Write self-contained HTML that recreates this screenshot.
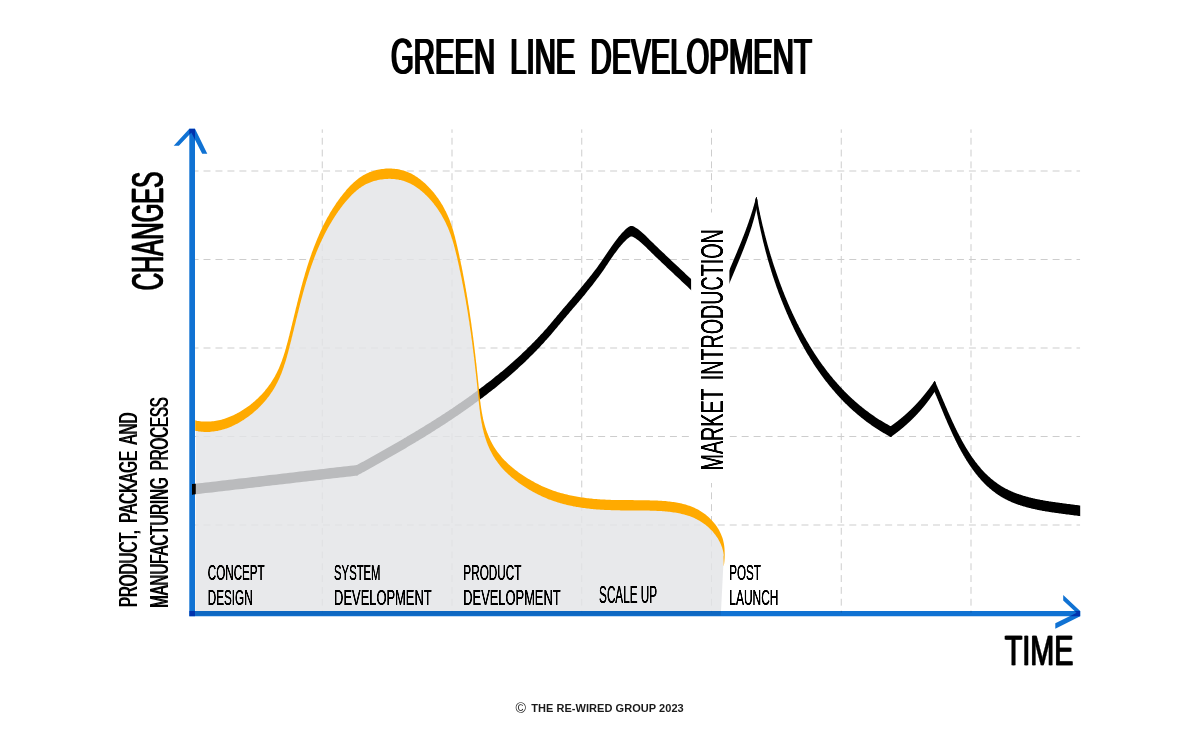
<!DOCTYPE html>
<html lang="en">
<head>
<meta charset="utf-8">
<title>Green Line Development</title>
<style>
html,body{margin:0;padding:0;background:#fff;}
body{width:1200px;height:732px;overflow:hidden;position:relative;font-family:"Liberation Sans",sans-serif;}
svg{position:absolute;left:0;top:0;display:block;}
svg text{font-family:"Liberation Sans",sans-serif;fill:#000;}
.axes,.axes .m{mix-blend-mode:multiply;}
.footer{position:absolute;left:515.6px;top:700px;height:16px;line-height:16px;font-size:11px;font-weight:700;color:#1a1a1a;white-space:nowrap;letter-spacing:0.05px;}
.footer .c{font-weight:400;font-size:14.2px;line-height:16px;display:inline-block;width:12.5px;vertical-align:-0.6px;letter-spacing:0;}
</style>
</head>
<body>
<svg width="1200" height="732" viewBox="0 0 1200 732">
<defs>
<clipPath id="lineclip"><path d="M192,0H691.1V732H192ZM729.4,0H1080.2V732H729.4Z"/></clipPath>
<clipPath id="oclip"><rect x="195.2" y="0" width="600" height="732"/></clipPath>
<filter id="tx1" filterUnits="userSpaceOnUse" x="0" y="0" width="1200" height="732"><feOffset in="SourceGraphic" dx="1" result="a"/><feMerge><feMergeNode in="a"/><feMergeNode in="SourceGraphic"/></feMerge></filter>
<filter id="tx2" filterUnits="userSpaceOnUse" x="0" y="0" width="1200" height="732"><feOffset in="SourceGraphic" dx="1" result="a"/><feOffset in="SourceGraphic" dx="-1" result="b"/><feMerge><feMergeNode in="a"/><feMergeNode in="b"/><feMergeNode in="SourceGraphic"/></feMerge></filter>
<filter id="txb" filterUnits="userSpaceOnUse" x="0" y="0" width="1200" height="732"><feGaussianBlur stdDeviation="0.4 0"/><feComponentTransfer><feFuncA type="linear" slope="1.6" intercept="0"/></feComponentTransfer></filter>
<filter id="tyb" filterUnits="userSpaceOnUse" x="0" y="0" width="1200" height="732"><feGaussianBlur stdDeviation="0 0.4"/><feComponentTransfer><feFuncA type="linear" slope="1.6" intercept="0"/></feComponentTransfer></filter>
<filter id="ty1" filterUnits="userSpaceOnUse" x="0" y="0" width="1200" height="732"><feOffset in="SourceGraphic" dy="-1" result="a"/><feMerge><feMergeNode in="a"/><feMergeNode in="SourceGraphic"/></feMerge></filter>
</defs>
<rect width="1200" height="732" fill="#fff"/>
<g class="grid" stroke="#cdcdcd" stroke-width="1" fill="none"><g stroke-dasharray="6.895 4.925" stroke-dashoffset="3.447"><path d="M322.25,129.4V612.6"/><path d="M452,129.4V612.6"/><path d="M581.75,129.4V612.6"/><path d="M711.5,129.4V612.6"/><path d="M841.25,129.4V612.6"/><path d="M971,129.4V612.6"/></g><g stroke-dasharray="6.976 4.983" stroke-dashoffset="3.488"><path d="M195.05,171.0H1080.05"/><path d="M195.05,259.5H1080.05"/><path d="M195.05,348.0H1080.05"/><path d="M195.05,436.5H1080.05"/><path d="M195.05,525.0H1080.05"/></g></g>
<rect x="691.2" y="212.5" width="38.2" height="270.5" fill="#fff"/>
<g class="green-line" clip-path="url(#lineclip)" fill="#000"><path d="M192.0,494.7L195.4,494.3L198.8,493.9L202.1,493.5L205.5,493.1L208.9,492.7L212.2,492.4L215.6,492.0L219.0,491.6L222.3,491.2L225.7,490.8L229.1,490.4L232.4,490.0L235.8,489.6L239.2,489.2L242.5,488.9L245.9,488.5L249.3,488.1L252.6,487.7L256.0,487.3L259.4,486.9L262.7,486.5L266.1,486.1L269.5,485.7L272.8,485.3L276.2,485.0L279.6,484.6L282.9,484.2L286.3,483.8L289.7,483.4L293.1,483.0L296.4,482.6L299.8,482.2L303.2,481.8L306.5,481.4L309.9,481.1L313.3,480.7L316.6,480.3L320.0,479.9L323.4,479.5L326.7,479.1L330.1,478.7L333.5,478.3L336.8,477.9L340.2,477.5L343.6,477.2L346.9,476.8L350.3,476.4L353.7,476.0L357.0,475.6L357.0,465.0L353.6,465.4L350.2,465.8L346.9,466.2L343.5,466.6L340.1,467.0L336.8,467.3L333.4,467.7L330.0,468.1L326.7,468.5L323.3,468.9L319.9,469.3L316.6,469.7L313.2,470.1L309.8,470.5L306.5,470.8L303.1,471.2L299.7,471.6L296.4,472.0L293.0,472.4L289.6,472.8L286.3,473.2L282.9,473.6L279.5,474.0L276.2,474.4L272.8,474.7L269.4,475.1L266.1,475.5L262.7,475.9L259.3,476.3L255.9,476.7L252.6,477.1L249.2,477.5L245.8,477.9L242.5,478.3L239.1,478.6L235.7,479.0L232.4,479.4L229.0,479.8L225.6,480.2L222.3,480.6L218.9,481.0L215.5,481.4L212.2,481.8L208.8,482.2L205.4,482.5L202.1,482.9L198.7,483.3L195.3,483.7L192.0,484.1Z"/><path d="M193.2,489.4L193.2,490.8L193.0,492.0L192.8,493.1L192.6,494.0L192.3,494.5L192.0,494.7L191.7,494.5L191.4,494.0L191.2,493.1L191.0,492.0L190.8,490.8L190.8,489.4L190.8,488.0L191.0,486.8L191.2,485.7L191.4,484.8L191.7,484.3L192.0,484.1L192.3,484.3L192.6,484.8L192.8,485.7L193.0,486.8L193.2,488.0Z"/><path d="M358.2,470.3L358.2,471.7L358.0,472.9L357.8,474.0L357.6,474.9L357.3,475.4L357.0,475.6L356.7,475.4L356.4,474.9L356.2,474.0L356.0,472.9L355.8,471.7L355.8,470.3L355.8,468.9L356.0,467.7L356.2,466.6L356.4,465.7L356.7,465.2L357.0,465.0L357.3,465.2L357.6,465.7L357.8,466.6L358.0,467.7L358.2,468.9Z"/><path d="M357.1,475.6L358.5,474.8L359.8,474.1L361.1,473.4L362.5,472.6L363.8,471.9L365.1,471.2L366.4,470.4L367.8,469.7L369.1,469.0L370.4,468.2L371.7,467.5L373.1,466.7L374.4,466.0L375.7,465.3L377.0,464.5L378.4,463.8L379.7,463.0L381.0,462.3L382.3,461.5L383.7,460.8L385.0,460.0L386.3,459.3L387.6,458.5L388.9,457.8L390.3,457.0L391.6,456.3L392.9,455.5L394.2,454.8L395.6,454.0L396.9,453.2L398.2,452.5L399.5,451.7L400.8,451.0L402.1,450.2L403.5,449.4L404.8,448.7L406.1,447.9L407.4,447.1L408.7,446.3L410.0,445.6L411.3,444.8L412.6,444.0L413.9,443.2L415.3,442.4L416.6,441.6L417.9,440.9L419.2,440.1L420.5,439.3L421.8,438.5L423.1,437.7L424.4,436.9L425.7,436.1L427.0,435.3L428.3,434.5L429.6,433.7L430.9,432.9L432.2,432.1L433.5,431.3L434.8,430.4L436.0,429.6L437.3,428.8L438.6,428.0L439.9,427.2L441.2,426.3L442.5,425.5L443.7,424.7L445.0,423.9L446.3,423.0L447.6,422.2L448.8,421.3L450.1,420.5L451.4,419.7L452.7,418.8L453.9,418.0L455.2,417.1L456.4,416.3L457.7,415.4L459.0,414.5L460.2,413.7L461.5,412.8L462.7,411.9L464.0,411.1L465.2,410.2L466.5,409.3L467.7,408.5L469.0,407.6L470.2,406.7L471.4,405.8L472.7,404.9L473.9,404.0L475.1,403.1L476.4,402.2L477.6,401.3L478.8,400.4L480.0,399.5L481.2,398.6L482.5,397.7L483.7,396.8L484.9,395.8L486.1,394.9L487.3,394.0L488.5,393.1L489.7,392.1L490.9,391.2L492.1,390.2L493.3,389.3L494.5,388.4L495.7,387.4L496.9,386.4L498.0,385.5L499.2,384.5L500.4,383.6L501.6,382.6L502.7,381.6L503.9,380.7L505.1,379.7L506.2,378.7L507.4,377.7L508.6,376.7L509.7,375.7L510.9,374.7L512.0,373.7L513.1,372.7L514.3,371.7L515.4,370.7L516.5,369.7L517.7,368.7L518.8,367.6L519.9,366.6L521.0,365.6L522.2,364.5L523.3,363.5L524.4,362.4L525.5,361.4L526.6,360.3L527.7,359.3L528.8,358.2L529.8,357.1L530.9,356.1L532.0,355.0L533.1,353.9L534.2,352.8L535.2,351.8L536.3,350.7L537.3,349.6L538.4,348.5L539.4,347.4L540.5,346.2L541.5,345.1L542.6,344.0L543.6,342.9L544.6,341.8L545.6,340.6L546.7,339.5L547.7,338.3L548.7,337.2L549.7,336.0L550.7,334.9L551.7,333.7L552.7,332.5L553.6,331.4L554.6,330.2L555.6,329.0L556.6,327.9L557.6,326.7L558.5,325.5L559.5,324.4L560.5,323.2L561.5,322.0L562.5,320.9L563.4,319.7L564.4,318.6L565.4,317.4L566.4,316.2L567.4,315.1L568.4,313.9L569.4,312.8L570.3,311.6L571.3,310.5L572.3,309.3L573.3,308.1L574.3,307.0L575.3,305.8L576.3,304.7L577.2,303.5L578.2,302.4L579.2,301.2L580.2,300.0L581.2,298.9L582.1,297.7L583.1,296.5L584.1,295.4L585.1,294.2L586.0,293.0L587.0,291.8L587.9,290.6L588.9,289.5L589.8,288.3L590.8,287.1L591.7,285.9L592.7,284.7L593.6,283.5L594.5,282.3L595.5,281.1L596.4,279.8L597.3,278.6L598.2,277.4L599.1,276.2L600.0,274.9L600.9,273.7L601.8,272.4L602.7,271.2L603.6,269.9L604.4,268.7L605.3,267.4L606.1,266.1L607.0,264.9L607.9,263.6L608.7,262.3L609.5,261.1L610.4,259.8L611.2,258.5L612.1,257.3L613.0,256.1L613.8,254.8L614.7,253.6L615.6,252.4L616.5,251.2L617.4,250.0L618.3,248.8L619.2,247.6L620.2,246.5L621.1,245.3L622.1,244.2L623.1,243.1L624.1,242.0L625.2,240.9L626.3,239.8L627.4,238.8L628.5,237.9L629.8,237.1L630.9,236.6L632.0,236.6L633.2,237.0L634.5,237.7L635.8,238.5L637.0,239.4L638.2,240.3L639.4,241.2L640.6,242.2L641.7,243.2L642.8,244.2L643.9,245.2L645.0,246.2L646.1,247.3L647.2,248.4L648.2,249.5L649.3,250.5L650.4,251.6L651.5,252.7L652.6,253.7L653.7,254.8L654.8,255.9L655.9,256.9L657.0,258.0L658.1,259.0L659.2,260.1L660.3,261.1L661.4,262.2L662.5,263.2L663.6,264.3L664.7,265.3L665.8,266.3L666.9,267.4L668.0,268.4L669.1,269.5L670.2,270.5L671.3,271.5L672.4,272.6L673.5,273.6L674.6,274.7L675.7,275.7L676.9,276.7L678.0,277.8L679.1,278.8L680.2,279.8L681.3,280.9L682.4,281.9L683.5,283.0L684.6,284.0L685.7,285.1L686.8,286.1L687.9,287.1L689.0,288.2L690.1,289.2L691.2,290.3L692.3,291.3L693.4,292.4L694.5,293.5L695.5,283.3L694.4,282.3L693.3,281.2L692.2,280.2L691.1,279.1L690.0,278.1L688.9,277.0L687.8,276.0L686.7,274.9L685.6,273.9L684.5,272.8L683.4,271.8L682.3,270.7L681.2,269.7L680.1,268.7L678.9,267.6L677.8,266.6L676.7,265.5L675.6,264.5L674.5,263.5L673.4,262.4L672.3,261.4L671.2,260.4L670.1,259.3L669.0,258.3L667.9,257.2L666.8,256.2L665.7,255.2L664.6,254.1L663.5,253.1L662.3,252.0L661.3,251.0L660.2,249.9L659.1,248.9L658.0,247.8L656.9,246.8L655.8,245.7L654.7,244.7L653.6,243.6L652.5,242.6L651.4,241.5L650.3,240.4L649.3,239.4L648.2,238.3L647.1,237.2L646.0,236.1L644.9,235.1L643.8,234.0L642.6,233.0L641.5,232.0L640.3,231.0L639.1,230.0L637.9,229.1L636.6,228.2L635.3,227.4L633.9,226.6L632.3,226.0L630.5,226.0L628.9,226.7L627.5,227.7L626.2,228.7L625.1,229.8L624.0,230.9L623.0,232.0L621.9,233.1L620.9,234.2L619.9,235.4L618.9,236.6L618.0,237.8L617.0,239.0L616.1,240.2L615.1,241.4L614.2,242.7L613.3,243.9L612.4,245.2L611.5,246.4L610.7,247.7L609.8,248.9L608.9,250.2L608.1,251.5L607.2,252.8L606.4,254.0L605.5,255.3L604.7,256.5L603.8,257.8L603.0,259.1L602.1,260.3L601.3,261.5L600.4,262.8L599.5,264.0L598.6,265.2L597.8,266.5L596.9,267.7L596.0,268.9L595.1,270.1L594.2,271.3L593.2,272.5L592.3,273.7L591.4,274.9L590.5,276.1L589.5,277.3L588.6,278.4L587.6,279.6L586.7,280.8L585.7,282.0L584.8,283.1L583.8,284.3L582.9,285.5L581.9,286.6L580.9,287.8L580.0,289.0L579.0,290.1L578.0,291.3L577.0,292.4L576.0,293.6L575.1,294.8L574.1,295.9L573.1,297.1L572.1,298.2L571.1,299.4L570.1,300.5L569.1,301.7L568.2,302.8L567.2,304.0L566.2,305.2L565.2,306.3L564.2,307.5L563.2,308.6L562.2,309.8L561.3,311.0L560.3,312.1L559.3,313.3L558.3,314.5L557.3,315.6L556.4,316.8L555.4,318.0L554.4,319.1L553.4,320.3L552.4,321.5L551.5,322.6L550.5,323.8L549.5,324.9L548.5,326.1L547.5,327.2L546.5,328.4L545.5,329.5L544.5,330.6L543.5,331.8L542.5,332.9L541.4,334.0L540.4,335.1L539.4,336.2L538.3,337.3L537.3,338.4L536.3,339.5L535.2,340.6L534.2,341.7L533.1,342.8L532.0,343.8L531.0,344.9L529.9,346.0L528.8,347.0L527.7,348.1L526.7,349.2L525.6,350.2L524.5,351.3L523.4,352.3L522.3,353.3L521.2,354.4L520.1,355.4L519.0,356.4L517.9,357.4L516.8,358.5L515.6,359.5L514.5,360.5L513.4,361.5L512.3,362.5L511.1,363.5L510.0,364.5L508.9,365.5L507.7,366.5L506.6,367.4L505.4,368.4L504.3,369.4L503.1,370.4L502.0,371.4L500.8,372.3L499.6,373.3L498.5,374.2L497.3,375.2L496.1,376.1L494.9,377.1L493.8,378.0L492.6,379.0L491.4,379.9L490.2,380.9L489.0,381.8L487.8,382.7L486.6,383.6L485.4,384.6L484.2,385.5L483.0,386.4L481.8,387.3L480.6,388.2L479.4,389.1L478.2,390.0L477.0,390.9L475.8,391.8L474.5,392.7L473.3,393.6L472.1,394.5L470.9,395.4L469.6,396.3L468.4,397.2L467.2,398.0L465.9,398.9L464.7,399.8L463.4,400.7L462.2,401.5L460.9,402.4L459.7,403.3L458.4,404.1L457.2,405.0L455.9,405.8L454.7,406.7L453.4,407.5L452.2,408.4L450.9,409.2L449.6,410.1L448.4,410.9L447.1,411.7L445.8,412.6L444.6,413.4L443.3,414.2L442.0,415.1L440.7,415.9L439.5,416.7L438.2,417.5L436.9,418.3L435.6,419.2L434.3,420.0L433.1,420.8L431.8,421.6L430.5,422.4L429.2,423.2L427.9,424.0L426.6,424.8L425.3,425.6L424.0,426.4L422.7,427.2L421.4,428.0L420.1,428.8L418.8,429.6L417.5,430.4L416.2,431.1L414.9,431.9L413.6,432.7L412.3,433.5L411.0,434.3L409.7,435.1L408.4,435.8L407.1,436.6L405.8,437.4L404.5,438.1L403.1,438.9L401.8,439.7L400.5,440.4L399.2,441.2L397.9,442.0L396.6,442.7L395.2,443.5L393.9,444.3L392.6,445.0L391.3,445.8L390.0,446.5L388.6,447.3L387.3,448.0L386.0,448.8L384.7,449.5L383.4,450.3L382.0,451.0L380.7,451.8L379.4,452.5L378.1,453.3L376.7,454.0L375.4,454.7L374.1,455.5L372.8,456.2L371.4,457.0L370.1,457.7L368.8,458.4L367.5,459.2L366.1,459.9L364.8,460.7L363.5,461.4L362.2,462.1L360.8,462.8L359.5,463.6L358.2,464.3L356.9,465.0Z"/><path d="M358.2,470.3L358.2,471.7L358.0,473.0L357.8,474.0L357.6,474.9L357.3,475.4L357.0,475.6L356.7,475.4L356.4,474.9L356.2,474.0L356.0,473.0L355.8,471.7L355.8,470.3L355.8,468.9L356.0,467.7L356.2,466.6L356.4,465.7L356.7,465.2L357.0,465.0L357.3,465.2L357.6,465.7L357.8,466.6L358.0,467.7L358.2,468.9Z"/><path d="M696.7,288.4L696.6,289.8L696.5,291.1L696.2,292.1L695.8,293.0L695.4,293.5L695.0,293.7L694.6,293.5L694.1,293.0L693.8,292.1L693.5,291.1L693.4,289.8L693.3,288.4L693.4,287.0L693.5,285.8L693.8,284.7L694.1,283.8L694.6,283.3L695.0,283.1L695.4,283.3L695.8,283.8L696.2,284.7L696.5,285.8L696.6,287.0Z"/><path d="M723.5,297.9L723.6,297.6L723.7,297.3L723.8,297.0L723.9,296.7L724.1,296.4L724.2,296.1L724.3,295.8L724.4,295.5L724.5,295.2L724.7,294.9L724.8,294.6L724.9,294.3L725.0,294.0L725.1,293.7L725.3,293.4L725.4,293.1L725.5,292.8L725.6,292.5L725.7,292.2L725.9,291.9L726.0,291.6L726.1,291.3L726.2,291.0L726.4,290.7L726.5,290.4L726.6,290.1L726.7,289.8L726.8,289.5L727.0,289.2L727.1,288.9L727.2,288.6L727.3,288.3L727.5,288.0L727.6,287.7L727.7,287.4L727.8,287.1L728.0,286.8L728.1,286.5L728.2,286.2L728.3,285.9L728.4,285.6L728.6,285.3L728.7,285.0L728.8,284.7L728.9,284.4L729.1,284.1L729.2,283.8L729.3,283.5L729.4,283.2L729.6,282.9L729.7,282.6L729.8,282.3L729.9,282.0L730.1,281.7L730.2,281.4L730.3,281.1L730.5,280.8L730.6,280.5L730.7,280.2L730.8,279.9L731.0,279.6L731.1,279.3L731.2,279.0L731.3,278.7L731.5,278.4L731.6,278.1L731.7,277.8L731.8,277.5L732.0,277.2L732.1,276.9L732.2,276.6L732.4,276.3L732.5,276.0L732.6,275.7L732.7,275.4L732.9,275.1L733.0,274.8L733.1,274.5L733.2,274.2L733.4,273.9L733.5,273.6L733.6,273.3L733.7,273.0L733.9,272.7L734.0,272.4L734.1,272.1L734.3,271.8L734.4,271.5L734.5,271.2L734.6,270.9L734.8,270.6L734.9,270.3L735.0,270.0L735.2,269.7L735.3,269.3L735.4,269.0L735.5,268.7L735.7,268.4L735.8,268.1L735.9,267.8L736.0,267.5L736.2,267.2L736.3,266.9L736.4,266.6L736.6,266.3L736.7,266.0L736.8,265.7L736.9,265.4L737.1,265.1L737.2,264.8L737.3,264.5L737.4,264.2L737.6,263.9L737.7,263.6L737.8,263.3L737.9,263.0L738.1,262.7L738.2,262.4L738.3,262.1L738.4,261.8L738.6,261.5L738.7,261.2L738.8,260.9L738.9,260.6L739.1,260.3L739.2,260.0L739.3,259.7L739.4,259.4L739.6,259.1L739.7,258.8L739.8,258.5L739.9,258.2L740.1,257.9L740.2,257.6L740.3,257.3L740.4,257.0L740.5,256.7L740.7,256.4L740.8,256.1L740.9,255.8L741.0,255.5L741.2,255.2L741.3,254.9L741.4,254.6L741.5,254.2L741.7,253.9L741.8,253.6L741.9,253.3L742.0,253.0L742.1,252.7L742.3,252.4L742.4,252.1L742.5,251.8L742.6,251.5L742.7,251.2L742.9,250.9L743.0,250.6L743.1,250.3L743.2,250.0L743.3,249.7L743.5,249.4L743.6,249.1L743.7,248.8L743.8,248.5L743.9,248.2L744.1,247.9L744.2,247.6L744.3,247.2L744.4,246.9L744.5,246.6L744.7,246.3L744.8,246.0L744.9,245.7L745.0,245.4L745.1,245.1L745.2,244.8L745.4,244.5L745.5,244.2L745.6,243.9L745.7,243.6L745.8,243.3L745.9,243.0L746.1,242.7L746.2,242.3L746.3,242.0L746.4,241.7L746.5,241.4L746.6,241.1L746.8,240.8L746.9,240.5L747.0,240.2L747.1,239.9L747.2,239.6L747.3,239.3L747.4,239.0L747.5,238.7L747.7,238.3L747.8,238.0L747.9,237.7L748.0,237.4L748.1,237.1L748.2,236.8L748.3,236.5L748.4,236.2L748.6,235.9L748.7,235.6L748.8,235.3L748.9,234.9L749.0,234.6L749.1,234.3L749.2,234.0L749.3,233.7L749.4,233.4L749.5,233.1L749.6,232.8L749.7,232.5L749.9,232.1L750.0,231.8L750.1,231.5L750.2,231.2L750.3,230.9L750.4,230.6L750.5,230.3L750.6,230.0L750.7,229.6L750.8,229.3L750.9,229.0L751.0,228.7L751.1,228.4L751.2,228.1L751.3,227.8L751.4,227.5L751.5,227.2L751.6,226.9L751.7,226.6L751.8,226.3L751.9,226.0L752.0,225.7L752.1,225.3L752.2,225.0L752.2,224.7L752.3,224.4L752.4,224.1L752.5,223.8L752.6,223.5L752.7,223.2L752.8,222.9L752.9,222.6L753.0,222.3L753.1,221.9L753.2,221.6L753.3,221.3L753.3,221.0L753.4,220.7L753.5,220.4L753.6,220.1L753.7,219.8L753.8,219.5L753.9,219.1L754.0,218.8L754.0,218.5L754.1,218.2L754.2,217.9L754.3,217.6L754.4,217.3L754.5,217.0L754.5,216.7L754.6,216.3L754.7,216.0L754.8,215.7L754.9,215.4L755.0,215.1L755.0,214.8L755.1,214.5L755.2,214.1L755.3,213.8L755.4,213.5L755.4,213.2L755.5,212.9L755.6,212.6L755.7,212.3L755.7,212.0L755.8,211.6L755.9,211.3L756.0,211.0L756.0,210.7L756.1,210.4L756.2,210.1L756.3,209.8L756.3,209.5L756.4,209.2L756.5,208.9L756.5,208.5L756.6,208.2L756.7,207.9L756.7,207.6L756.8,207.3L756.9,207.0L756.9,206.7L755.9,198.1L755.8,198.5L755.7,198.8L755.6,199.1L755.5,199.4L755.5,199.8L755.4,200.1L755.3,200.4L755.2,200.7L755.1,201.0L755.0,201.4L754.9,201.7L754.9,202.0L754.8,202.3L754.7,202.7L754.6,203.0L754.5,203.3L754.4,203.6L754.3,203.9L754.2,204.3L754.1,204.6L754.1,204.9L754.0,205.2L753.9,205.5L753.8,205.8L753.7,206.2L753.6,206.5L753.5,206.8L753.4,207.1L753.3,207.4L753.2,207.7L753.1,208.1L753.1,208.4L753.0,208.7L752.9,209.0L752.8,209.3L752.7,209.6L752.6,209.9L752.5,210.3L752.4,210.6L752.3,210.9L752.2,211.2L752.1,211.5L752.0,211.8L751.9,212.1L751.8,212.5L751.7,212.8L751.6,213.1L751.5,213.4L751.4,213.7L751.3,214.0L751.2,214.3L751.1,214.7L751.0,215.0L750.9,215.3L750.8,215.6L750.7,215.9L750.6,216.2L750.5,216.5L750.4,216.8L750.3,217.2L750.2,217.5L750.1,217.8L750.0,218.1L749.9,218.4L749.7,218.7L749.6,219.0L749.5,219.3L749.4,219.7L749.3,220.0L749.2,220.3L749.1,220.6L749.0,220.9L748.9,221.2L748.8,221.5L748.7,221.8L748.6,222.1L748.5,222.4L748.4,222.7L748.3,223.0L748.1,223.4L748.0,223.7L747.9,224.0L747.8,224.3L747.7,224.6L747.6,224.9L747.5,225.2L747.4,225.5L747.3,225.8L747.2,226.1L747.1,226.4L747.0,226.7L746.8,227.0L746.7,227.3L746.6,227.6L746.5,227.9L746.4,228.2L746.3,228.5L746.2,228.8L746.1,229.1L746.0,229.4L745.8,229.7L745.7,230.0L745.6,230.4L745.5,230.7L745.4,231.0L745.3,231.3L745.2,231.6L745.1,231.9L744.9,232.2L744.8,232.5L744.7,232.8L744.6,233.1L744.5,233.4L744.4,233.7L744.2,234.0L744.1,234.3L744.0,234.6L743.9,234.9L743.8,235.2L743.7,235.5L743.5,235.8L743.4,236.1L743.3,236.4L743.2,236.7L743.1,237.0L742.9,237.3L742.8,237.6L742.7,237.9L742.6,238.2L742.5,238.5L742.4,238.8L742.2,239.1L742.1,239.5L742.0,239.8L741.9,240.1L741.7,240.4L741.6,240.7L741.5,241.0L741.4,241.3L741.3,241.6L741.1,241.9L741.0,242.2L740.9,242.5L740.8,242.8L740.7,243.1L740.5,243.4L740.4,243.7L740.3,244.0L740.2,244.3L740.0,244.6L739.9,244.9L739.8,245.2L739.7,245.5L739.5,245.8L739.4,246.1L739.3,246.4L739.2,246.7L739.0,247.0L738.9,247.3L738.8,247.6L738.7,247.9L738.5,248.2L738.4,248.5L738.3,248.8L738.2,249.1L738.0,249.4L737.9,249.7L737.8,250.0L737.7,250.3L737.5,250.6L737.4,251.0L737.3,251.3L737.2,251.6L737.0,251.9L736.9,252.2L736.8,252.5L736.7,252.8L736.5,253.1L736.4,253.4L736.3,253.7L736.1,254.0L736.0,254.3L735.9,254.6L735.8,254.9L735.6,255.2L735.5,255.5L735.4,255.8L735.3,256.1L735.1,256.4L735.0,256.7L734.9,257.0L734.7,257.3L734.6,257.6L734.5,257.9L734.4,258.2L734.2,258.5L734.1,258.8L734.0,259.1L733.9,259.4L733.7,259.7L733.6,260.0L733.5,260.3L733.3,260.6L733.2,260.9L733.1,261.2L733.0,261.5L732.8,261.8L732.7,262.1L732.6,262.4L732.5,262.7L732.3,263.0L732.2,263.3L732.1,263.6L731.9,263.9L731.8,264.2L731.7,264.5L731.6,264.8L731.4,265.1L731.3,265.4L731.2,265.7L731.1,266.0L730.9,266.3L730.8,266.6L730.7,266.9L730.5,267.2L730.4,267.5L730.3,267.8L730.2,268.1L730.0,268.4L729.9,268.7L729.8,269.0L729.7,269.3L729.5,269.7L729.4,270.0L729.3,270.3L729.1,270.6L729.0,270.9L728.9,271.2L728.8,271.5L728.6,271.8L728.5,272.1L728.4,272.4L728.3,272.7L728.1,273.0L728.0,273.3L727.9,273.6L727.8,273.9L727.6,274.2L727.5,274.5L727.4,274.8L727.2,275.1L727.1,275.4L727.0,275.7L726.9,276.0L726.7,276.3L726.6,276.6L726.5,276.9L726.4,277.2L726.2,277.5L726.1,277.8L726.0,278.1L725.9,278.4L725.7,278.7L725.6,279.0L725.5,279.3L725.4,279.6L725.2,279.9L725.1,280.2L725.0,280.6L724.9,280.9L724.7,281.2L724.6,281.5L724.5,281.8L724.4,282.1L724.2,282.4L724.1,282.7L724.0,283.0L723.9,283.3L723.8,283.6L723.6,283.9L723.5,284.2L723.4,284.5L723.3,284.8L723.1,285.1L723.0,285.4L722.9,285.7L722.8,286.0L722.7,286.3L722.5,286.6L722.4,286.9L722.3,287.3L722.2,287.6L722.0,287.9L721.9,288.2L721.8,288.5L721.7,288.8L721.6,289.1L721.4,289.4L721.3,289.7Z"/><path d="M724.1,293.8L724.0,295.2L723.9,296.5L723.6,297.5L723.3,298.4L722.8,298.9L722.4,299.1L722.0,298.9L721.6,298.4L721.2,297.5L720.9,296.5L720.8,295.2L720.7,293.8L720.8,292.4L720.9,291.2L721.2,290.1L721.6,289.2L722.0,288.7L722.4,288.5L722.8,288.7L723.3,289.2L723.6,290.1L723.9,291.2L724.0,292.4Z"/><path d="M757.3,202.4L757.3,203.8L757.2,205.1L757.0,206.1L756.9,207.0L756.6,207.5L756.4,207.7L756.2,207.5L756.0,207.0L755.8,206.1L755.6,205.1L755.5,203.8L755.5,202.4L755.5,201.0L755.6,199.8L755.8,198.7L756.0,197.8L756.2,197.3L756.4,197.1L756.6,197.3L756.9,197.8L757.0,198.7L757.2,199.8L757.3,201.0Z"/><path d="M755.8,206.3L755.9,207.1L756.1,208.0L756.3,208.9L756.4,209.8L756.6,210.7L756.7,211.6L756.9,212.5L757.1,213.4L757.2,214.3L757.4,215.2L757.6,216.1L757.8,217.0L757.9,217.8L758.1,218.7L758.3,219.6L758.5,220.5L758.7,221.4L758.8,222.3L759.0,223.2L759.2,224.1L759.4,225.0L759.6,225.9L759.8,226.8L760.0,227.7L760.2,228.6L760.4,229.5L760.6,230.4L760.8,231.3L760.9,232.1L761.2,233.0L761.4,233.9L761.6,234.8L761.8,235.7L762.0,236.6L762.2,237.5L762.4,238.4L762.6,239.3L762.8,240.2L763.0,241.1L763.2,242.0L763.5,242.9L763.7,243.7L763.9,244.6L764.1,245.5L764.4,246.4L764.6,247.3L764.8,248.2L765.0,249.1L765.3,250.0L765.5,250.9L765.7,251.8L766.0,252.7L766.2,253.5L766.5,254.4L766.7,255.3L766.9,256.2L767.2,257.1L767.4,258.0L767.7,258.9L767.9,259.8L768.2,260.7L768.4,261.5L768.7,262.4L769.0,263.3L769.2,264.2L769.5,265.1L769.7,266.0L770.0,266.9L770.3,267.7L770.5,268.6L770.8,269.5L771.1,270.4L771.3,271.3L771.6,272.2L771.9,273.0L772.2,273.9L772.4,274.8L772.7,275.7L773.0,276.6L773.3,277.5L773.6,278.3L773.9,279.2L774.2,280.1L774.5,281.0L774.8,281.9L775.1,282.8L775.4,283.6L775.7,284.5L776.0,285.4L776.3,286.3L776.6,287.2L776.9,288.1L777.3,289.0L777.6,289.8L777.9,290.7L778.2,291.6L778.5,292.5L778.9,293.4L779.2,294.2L779.5,295.1L779.9,296.0L780.2,296.9L780.5,297.7L780.9,298.6L781.2,299.5L781.6,300.4L781.9,301.2L782.3,302.1L782.6,303.0L783.0,303.9L783.3,304.7L783.7,305.6L784.0,306.5L784.4,307.3L784.7,308.2L785.1,309.1L785.5,309.9L785.8,310.8L786.2,311.7L786.6,312.5L786.9,313.4L787.3,314.2L787.7,315.1L788.1,315.9L788.4,316.8L788.8,317.7L789.2,318.5L789.6,319.4L790.0,320.2L790.4,321.1L790.8,321.9L791.1,322.8L791.5,323.6L791.9,324.5L792.3,325.3L792.7,326.1L793.1,327.0L793.5,327.8L793.9,328.7L794.3,329.5L794.7,330.3L795.1,331.2L795.5,332.0L796.0,332.8L796.4,333.7L796.8,334.5L797.2,335.3L797.6,336.1L798.1,337.0L798.5,337.8L798.9,338.6L799.3,339.4L799.8,340.2L800.2,341.1L800.6,341.9L801.1,342.7L801.5,343.5L802.0,344.3L802.4,345.1L802.9,345.9L803.3,346.8L803.8,347.6L804.2,348.4L804.7,349.2L805.1,350.0L805.6,350.8L806.0,351.6L806.5,352.4L807.0,353.2L807.4,354.0L807.9,354.8L808.4,355.5L808.9,356.3L809.4,357.1L809.8,357.9L810.3,358.7L810.8,359.5L811.3,360.3L811.8,361.1L812.3,361.8L812.8,362.6L813.3,363.4L813.8,364.2L814.3,364.9L814.8,365.7L815.3,366.5L815.8,367.2L816.3,368.0L816.9,368.8L817.4,369.5L817.9,370.3L818.4,371.0L819.0,371.8L819.5,372.5L820.0,373.3L820.5,374.0L821.1,374.8L821.6,375.5L822.2,376.3L822.7,377.0L823.3,377.7L823.8,378.5L824.4,379.2L824.9,379.9L825.5,380.7L826.0,381.4L826.6,382.1L827.2,382.8L827.7,383.6L828.3,384.3L828.9,385.0L829.5,385.7L830.0,386.4L830.6,387.1L831.2,387.8L831.8,388.5L832.4,389.2L833.0,389.9L833.6,390.6L834.2,391.3L834.8,392.0L835.4,392.7L836.0,393.4L836.6,394.1L837.2,394.7L837.8,395.4L838.4,396.1L839.0,396.8L839.7,397.4L840.3,398.1L840.9,398.8L841.5,399.4L842.2,400.1L842.8,400.7L843.4,401.4L844.1,402.1L844.7,402.7L845.4,403.4L846.0,404.0L846.7,404.6L847.4,405.3L848.0,405.9L848.7,406.5L849.3,407.2L850.0,407.8L850.7,408.4L851.4,409.0L852.0,409.7L852.7,410.3L853.4,410.9L854.1,411.5L854.8,412.1L855.5,412.7L856.2,413.3L856.9,413.9L857.5,414.5L858.3,415.1L859.0,415.7L859.7,416.3L860.4,416.8L861.1,417.4L861.8,418.0L862.5,418.6L863.3,419.1L864.0,419.7L864.7,420.3L865.4,420.8L866.2,421.4L866.9,421.9L867.7,422.5L868.4,423.0L869.1,423.5L869.9,424.1L870.6,424.6L871.4,425.2L872.2,425.7L872.9,426.2L873.7,426.7L874.5,427.2L875.2,427.8L876.0,428.3L876.8,428.8L877.6,429.3L878.3,429.8L879.1,430.3L879.9,430.8L880.7,431.3L881.5,431.7L882.3,432.2L883.1,432.7L883.9,433.2L884.7,433.6L885.5,434.1L886.3,434.6L887.1,435.0L888.0,435.5L888.8,435.9L889.6,436.4L890.4,436.8L891.0,426.4L890.1,425.9L889.3,425.5L888.5,425.0L887.7,424.6L886.9,424.1L886.1,423.7L885.3,423.2L884.5,422.7L883.7,422.3L882.9,421.8L882.1,421.3L881.3,420.8L880.5,420.3L879.7,419.9L878.9,419.4L878.2,418.9L877.4,418.4L876.6,417.9L875.9,417.4L875.1,416.9L874.3,416.3L873.6,415.8L872.8,415.3L872.1,414.8L871.3,414.3L870.6,413.7L869.9,413.2L869.1,412.7L868.4,412.1L867.7,411.6L866.9,411.0L866.2,410.5L865.5,409.9L864.8,409.4L864.1,408.8L863.3,408.3L862.6,407.7L861.9,407.1L861.2,406.6L860.5,406.0L859.8,405.4L859.1,404.8L858.4,404.3L857.8,403.7L857.1,403.1L856.4,402.5L855.7,401.9L855.0,401.3L854.4,400.7L853.7,400.1L853.0,399.5L852.4,398.9L851.7,398.3L851.0,397.7L850.4,397.1L849.7,396.4L849.1,395.8L848.4,395.2L847.8,394.6L847.2,393.9L846.5,393.3L845.9,392.7L845.3,392.0L844.6,391.4L844.0,390.7L843.4,390.1L842.7,389.4L842.1,388.8L841.5,388.1L840.9,387.5L840.3,386.8L839.7,386.2L839.1,385.5L838.5,384.8L837.9,384.2L837.3,383.5L836.7,382.8L836.1,382.1L835.5,381.4L834.9,380.8L834.3,380.1L833.7,379.4L833.1,378.7L832.6,378.0L832.0,377.3L831.4,376.6L830.8,375.9L830.3,375.2L829.7,374.5L829.1,373.8L828.6,373.1L828.0,372.4L827.5,371.7L826.9,371.0L826.4,370.2L825.8,369.5L825.3,368.8L824.7,368.1L824.2,367.3L823.7,366.6L823.1,365.9L822.6,365.2L822.1,364.4L821.5,363.7L821.0,362.9L820.5,362.2L819.9,361.5L819.4,360.7L818.9,360.0L818.4,359.2L817.9,358.5L817.4,357.7L816.9,357.0L816.4,356.2L815.9,355.4L815.4,354.7L814.9,353.9L814.4,353.2L813.9,352.4L813.4,351.6L812.9,350.9L812.4,350.1L811.9,349.3L811.4,348.5L811.0,347.8L810.5,347.0L810.0,346.2L809.5,345.4L809.1,344.6L808.6,343.8L808.1,343.1L807.7,342.3L807.2,341.5L806.7,340.7L806.3,339.9L805.8,339.1L805.4,338.3L804.9,337.5L804.5,336.7L804.0,335.9L803.6,335.1L803.1,334.3L802.7,333.5L802.2,332.7L801.8,331.9L801.4,331.0L800.9,330.2L800.5,329.4L800.1,328.6L799.6,327.8L799.2,327.0L798.8,326.2L798.4,325.3L798.0,324.5L797.5,323.7L797.1,322.9L796.7,322.0L796.3,321.2L795.9,320.4L795.5,319.6L795.1,318.7L794.7,317.9L794.3,317.1L793.9,316.2L793.5,315.4L793.1,314.6L792.7,313.7L792.3,312.9L791.9,312.1L791.6,311.2L791.2,310.4L790.8,309.5L790.4,308.7L790.0,307.9L789.7,307.0L789.3,306.2L788.9,305.3L788.6,304.5L788.2,303.7L787.8,302.8L787.5,302.0L787.1,301.1L786.8,300.3L786.4,299.4L786.1,298.6L785.7,297.7L785.4,296.9L785.0,296.0L784.7,295.2L784.3,294.3L784.0,293.5L783.7,292.6L783.3,291.8L783.0,290.9L782.6,290.1L782.3,289.2L782.0,288.3L781.7,287.5L781.3,286.6L781.0,285.8L780.7,284.9L780.4,284.0L780.0,283.2L779.7,282.3L779.4,281.5L779.1,280.6L778.8,279.7L778.5,278.9L778.2,278.0L777.9,277.2L777.6,276.3L777.3,275.4L777.0,274.6L776.7,273.7L776.4,272.8L776.1,272.0L775.8,271.1L775.5,270.2L775.2,269.3L774.9,268.4L774.6,267.6L774.3,266.7L774.0,265.8L773.7,264.9L773.4,264.0L773.1,263.1L772.8,262.3L772.6,261.4L772.3,260.5L772.0,259.6L771.7,258.7L771.5,257.8L771.2,257.0L770.9,256.1L770.6,255.2L770.4,254.3L770.1,253.4L769.8,252.5L769.6,251.6L769.3,250.8L769.1,249.9L768.8,249.0L768.5,248.1L768.3,247.2L768.0,246.3L767.8,245.4L767.5,244.5L767.3,243.7L767.1,242.8L766.8,241.9L766.6,241.0L766.3,240.1L766.1,239.2L765.9,238.3L765.6,237.4L765.4,236.5L765.2,235.7L764.9,234.8L764.7,233.9L764.5,233.0L764.3,232.1L764.0,231.2L763.8,230.3L763.6,229.4L763.4,228.6L763.2,227.7L763.0,226.8L762.7,225.9L762.5,225.0L762.3,224.1L762.1,223.2L761.9,222.3L761.7,221.5L761.5,220.6L761.3,219.7L761.1,218.8L760.9,217.9L760.7,217.0L760.5,216.1L760.3,215.3L760.1,214.4L760.0,213.5L759.8,212.6L759.6,211.7L759.4,210.9L759.2,210.0L759.0,209.1L758.9,208.2L758.7,207.3L758.5,206.5L758.3,205.6L758.2,204.7L758.0,203.8L757.8,202.9L757.7,202.1L757.5,201.2L757.3,200.3L757.2,199.4L757.0,198.6Z"/><path d="M757.3,202.4L757.3,203.8L757.2,205.1L757.0,206.1L756.8,207.0L756.6,207.5L756.4,207.7L756.2,207.5L755.9,207.0L755.8,206.1L755.6,205.1L755.5,203.8L755.5,202.4L755.5,201.0L755.6,199.8L755.8,198.7L755.9,197.8L756.2,197.3L756.4,197.1L756.6,197.3L756.8,197.8L757.0,198.7L757.2,199.8L757.3,201.0Z"/><path d="M892.3,431.6L892.2,433.0L892.1,434.3L891.8,435.3L891.5,436.2L891.1,436.7L890.7,436.9L890.3,436.7L889.9,436.2L889.6,435.3L889.3,434.3L889.2,433.0L889.1,431.6L889.2,430.2L889.3,429.0L889.6,427.9L889.9,427.0L890.3,426.5L890.7,426.3L891.1,426.5L891.5,427.0L891.8,427.9L892.1,429.0L892.2,430.2Z"/><path d="M891.0,436.8L891.2,436.7L891.4,436.5L891.6,436.4L891.7,436.3L891.9,436.2L892.1,436.1L892.3,435.9L892.4,435.8L892.6,435.7L892.8,435.6L892.9,435.4L893.1,435.3L893.3,435.2L893.5,435.1L893.6,434.9L893.8,434.8L894.0,434.7L894.2,434.6L894.3,434.4L894.5,434.3L894.7,434.2L894.8,434.1L895.0,433.9L895.2,433.8L895.4,433.7L895.5,433.5L895.7,433.4L895.9,433.3L896.0,433.2L896.2,433.0L896.4,432.9L896.6,432.8L896.7,432.6L896.9,432.5L897.1,432.4L897.2,432.3L897.4,432.1L897.6,432.0L897.7,431.9L897.9,431.7L898.1,431.6L898.2,431.5L898.4,431.3L898.6,431.2L898.8,431.1L898.9,430.9L899.1,430.8L899.3,430.7L899.4,430.6L899.6,430.4L899.8,430.3L899.9,430.2L900.1,430.0L900.3,429.9L900.4,429.8L900.6,429.6L900.8,429.5L900.9,429.3L901.1,429.2L901.2,429.1L901.4,428.9L901.6,428.8L901.7,428.7L901.9,428.5L902.1,428.4L902.2,428.3L902.4,428.1L902.6,428.0L902.7,427.9L902.9,427.7L903.1,427.6L903.2,427.4L903.4,427.3L903.5,427.2L903.7,427.0L903.9,426.9L904.0,426.7L904.2,426.6L904.4,426.5L904.5,426.3L904.7,426.2L904.8,426.0L905.0,425.9L905.2,425.8L905.3,425.6L905.5,425.5L905.6,425.3L905.8,425.2L906.0,425.1L906.1,424.9L906.3,424.8L906.4,424.6L906.6,424.5L906.8,424.4L906.9,424.2L907.1,424.1L907.2,423.9L907.4,423.8L907.6,423.6L907.7,423.5L907.9,423.3L908.0,423.2L908.2,423.1L908.4,422.9L908.5,422.8L908.7,422.6L908.8,422.5L909.0,422.3L909.1,422.2L909.3,422.0L909.4,421.9L909.6,421.8L909.8,421.6L909.9,421.5L910.1,421.3L910.2,421.2L910.4,421.0L910.5,420.9L910.7,420.7L910.8,420.6L911.0,420.4L911.2,420.3L911.3,420.1L911.5,420.0L911.6,419.8L911.8,419.7L911.9,419.5L912.1,419.4L912.2,419.2L912.4,419.1L912.5,418.9L912.7,418.8L912.8,418.6L913.0,418.5L913.1,418.3L913.3,418.2L913.4,418.0L913.6,417.9L913.7,417.7L913.9,417.6L914.0,417.4L914.2,417.3L914.3,417.1L914.5,417.0L914.6,416.8L914.8,416.7L914.9,416.5L915.1,416.4L915.2,416.2L915.4,416.1L915.5,415.9L915.7,415.7L915.8,415.6L916.0,415.4L916.1,415.3L916.3,415.1L916.4,415.0L916.6,414.8L916.7,414.7L916.8,414.5L917.0,414.4L917.1,414.2L917.3,414.0L917.4,413.9L917.6,413.7L917.7,413.6L917.9,413.4L918.0,413.3L918.2,413.1L918.3,412.9L918.4,412.8L918.6,412.6L918.7,412.5L918.9,412.3L919.0,412.2L919.2,412.0L919.3,411.8L919.4,411.7L919.6,411.5L919.7,411.4L919.9,411.2L920.0,411.0L920.2,410.9L920.3,410.7L920.4,410.6L920.6,410.4L920.7,410.2L920.9,410.1L921.0,409.9L921.1,409.8L921.3,409.6L921.4,409.4L921.6,409.3L921.7,409.1L921.8,409.0L922.0,408.8L922.1,408.6L922.2,408.5L922.4,408.3L922.5,408.1L922.7,408.0L922.8,407.8L922.9,407.7L923.1,407.5L923.2,407.3L923.3,407.2L923.5,407.0L923.6,406.8L923.7,406.7L923.9,406.5L924.0,406.4L924.1,406.2L924.3,406.0L924.4,405.9L924.5,405.7L924.7,405.5L924.8,405.4L924.9,405.2L925.1,405.0L925.2,404.9L925.3,404.7L925.5,404.6L925.6,404.4L925.7,404.2L925.9,404.1L926.0,403.9L926.1,403.7L926.2,403.6L926.4,403.4L926.5,403.2L926.6,403.1L926.8,402.9L926.9,402.7L927.0,402.6L927.1,402.4L927.3,402.2L927.4,402.1L927.5,401.9L927.6,401.7L927.8,401.6L927.9,401.4L928.0,401.2L928.2,401.1L928.3,400.9L928.4,400.7L928.5,400.5L928.7,400.4L928.8,400.2L928.9,400.0L929.0,399.9L929.2,399.7L929.3,399.5L929.4,399.4L929.5,399.2L929.7,399.0L929.8,398.9L929.9,398.7L930.0,398.5L930.1,398.3L930.3,398.2L930.4,398.0L930.5,397.8L930.6,397.7L930.8,397.5L930.9,397.3L931.0,397.1L931.1,397.0L931.2,396.8L931.4,396.6L931.5,396.5L931.6,396.3L931.7,396.1L931.8,395.9L932.0,395.8L932.1,395.6L932.2,395.4L932.3,395.2L932.4,395.1L932.6,394.9L932.7,394.7L932.8,394.5L932.9,394.4L933.0,394.2L933.1,394.0L933.3,393.8L933.4,393.7L933.5,393.5L933.6,393.3L933.7,393.2L933.8,393.0L934.0,392.8L934.1,392.6L934.2,392.4L934.3,392.3L934.4,392.1L934.5,391.9L934.7,391.7L934.8,391.6L934.9,391.4L934.3,381.2L934.2,381.4L934.1,381.6L934.0,381.7L933.8,381.9L933.7,382.1L933.6,382.3L933.5,382.5L933.4,382.6L933.3,382.8L933.1,383.0L933.0,383.2L932.9,383.3L932.8,383.5L932.7,383.7L932.5,383.9L932.4,384.0L932.3,384.2L932.2,384.4L932.0,384.6L931.9,384.7L931.8,384.9L931.7,385.1L931.6,385.3L931.4,385.4L931.3,385.6L931.2,385.8L931.1,386.0L930.9,386.1L930.8,386.3L930.7,386.5L930.6,386.7L930.4,386.8L930.3,387.0L930.2,387.2L930.1,387.4L929.9,387.5L929.8,387.7L929.7,387.9L929.6,388.0L929.4,388.2L929.3,388.4L929.2,388.6L929.1,388.7L928.9,388.9L928.8,389.1L928.7,389.2L928.5,389.4L928.4,389.6L928.3,389.8L928.2,389.9L928.0,390.1L927.9,390.3L927.8,390.4L927.6,390.6L927.5,390.8L927.4,391.0L927.2,391.1L927.1,391.3L927.0,391.5L926.9,391.6L926.7,391.8L926.6,392.0L926.5,392.1L926.3,392.3L926.2,392.5L926.1,392.6L925.9,392.8L925.8,393.0L925.7,393.1L925.5,393.3L925.4,393.5L925.3,393.6L925.1,393.8L925.0,394.0L924.9,394.1L924.7,394.3L924.6,394.5L924.5,394.6L924.3,394.8L924.2,395.0L924.0,395.1L923.9,395.3L923.8,395.5L923.6,395.6L923.5,395.8L923.4,396.0L923.2,396.1L923.1,396.3L923.0,396.5L922.8,396.6L922.7,396.8L922.5,397.0L922.4,397.1L922.3,397.3L922.1,397.4L922.0,397.6L921.8,397.8L921.7,397.9L921.6,398.1L921.4,398.3L921.3,398.4L921.2,398.6L921.0,398.7L920.9,398.9L920.7,399.1L920.6,399.2L920.5,399.4L920.3,399.5L920.2,399.7L920.1,399.9L919.9,400.0L919.8,400.2L919.6,400.3L919.5,400.5L919.4,400.6L919.2,400.8L919.1,401.0L918.9,401.1L918.8,401.3L918.6,401.4L918.5,401.6L918.4,401.7L918.2,401.9L918.1,402.1L917.9,402.2L917.8,402.4L917.6,402.5L917.5,402.7L917.4,402.8L917.2,403.0L917.1,403.2L916.9,403.3L916.8,403.5L916.6,403.6L916.5,403.8L916.4,403.9L916.2,404.1L916.1,404.2L915.9,404.4L915.8,404.5L915.6,404.7L915.5,404.8L915.3,405.0L915.2,405.2L915.0,405.3L914.9,405.5L914.8,405.6L914.6,405.8L914.5,405.9L914.3,406.1L914.2,406.2L914.0,406.4L913.9,406.5L913.7,406.7L913.6,406.8L913.4,407.0L913.3,407.1L913.1,407.3L913.0,407.4L912.8,407.6L912.7,407.7L912.5,407.9L912.4,408.0L912.2,408.2L912.1,408.3L911.9,408.5L911.8,408.6L911.6,408.8L911.5,408.9L911.3,409.1L911.2,409.2L911.0,409.4L910.9,409.5L910.7,409.7L910.6,409.8L910.4,410.0L910.3,410.1L910.1,410.2L910.0,410.4L909.8,410.5L909.7,410.7L909.5,410.8L909.3,411.0L909.2,411.1L909.0,411.3L908.9,411.4L908.7,411.6L908.6,411.7L908.4,411.8L908.3,412.0L908.1,412.1L908.0,412.3L907.8,412.4L907.7,412.6L907.5,412.7L907.3,412.8L907.2,413.0L907.0,413.1L906.9,413.3L906.7,413.4L906.6,413.6L906.4,413.7L906.2,413.8L906.1,414.0L905.9,414.1L905.8,414.3L905.6,414.4L905.5,414.5L905.3,414.7L905.1,414.8L905.0,415.0L904.8,415.1L904.7,415.2L904.5,415.4L904.4,415.5L904.2,415.7L904.0,415.8L903.9,415.9L903.7,416.1L903.6,416.2L903.4,416.3L903.2,416.5L903.1,416.6L902.9,416.8L902.8,416.9L902.6,417.0L902.4,417.2L902.3,417.3L902.1,417.4L901.9,417.6L901.8,417.7L901.6,417.8L901.5,418.0L901.3,418.1L901.1,418.3L901.0,418.4L900.8,418.5L900.6,418.7L900.5,418.8L900.3,418.9L900.2,419.1L900.0,419.2L899.8,419.3L899.7,419.5L899.5,419.6L899.3,419.7L899.2,419.8L899.0,420.0L898.8,420.1L898.7,420.2L898.5,420.4L898.3,420.5L898.2,420.6L898.0,420.8L897.8,420.9L897.7,421.0L897.5,421.2L897.3,421.3L897.2,421.4L897.0,421.5L896.8,421.7L896.7,421.8L896.5,421.9L896.3,422.1L896.2,422.2L896.0,422.3L895.8,422.4L895.7,422.6L895.5,422.7L895.3,422.8L895.2,423.0L895.0,423.1L894.8,423.2L894.7,423.3L894.5,423.5L894.3,423.6L894.1,423.7L894.0,423.8L893.8,424.0L893.6,424.1L893.5,424.2L893.3,424.3L893.1,424.5L893.0,424.6L892.8,424.7L892.6,424.8L892.4,425.0L892.3,425.1L892.1,425.2L891.9,425.3L891.8,425.4L891.6,425.6L891.4,425.7L891.2,425.8L891.1,425.9L890.9,426.1L890.7,426.2L890.5,426.3L890.4,426.4Z"/><path d="M892.3,431.6L892.2,433.0L892.1,434.3L891.8,435.3L891.5,436.2L891.1,436.7L890.7,436.9L890.3,436.7L889.9,436.2L889.6,435.3L889.3,434.3L889.2,433.0L889.1,431.6L889.2,430.2L889.3,429.0L889.6,427.9L889.9,427.0L890.3,426.5L890.7,426.3L891.1,426.5L891.5,427.0L891.8,427.9L892.1,429.0L892.2,430.2Z"/><path d="M935.6,386.3L935.6,387.7L935.5,389.0L935.3,390.0L935.1,390.9L934.9,391.4L934.6,391.6L934.3,391.4L934.1,390.9L933.9,390.0L933.7,389.0L933.6,387.7L933.6,386.3L933.6,384.9L933.7,383.7L933.9,382.6L934.1,381.7L934.3,381.2L934.6,381.0L934.9,381.2L935.1,381.7L935.3,382.6L935.5,383.7L935.6,384.9Z"/><path d="M934.2,391.2L934.5,391.8L934.7,392.4L935.0,393.0L935.2,393.6L935.5,394.2L935.7,394.8L936.0,395.4L936.3,396.0L936.5,396.6L936.8,397.3L937.0,397.9L937.3,398.5L937.6,399.1L937.8,399.8L938.1,400.4L938.3,401.0L938.6,401.6L938.9,402.3L939.1,402.9L939.4,403.5L939.6,404.2L939.9,404.8L940.2,405.5L940.4,406.1L940.7,406.7L941.0,407.4L941.2,408.0L941.5,408.7L941.8,409.3L942.0,410.0L942.3,410.6L942.6,411.3L942.8,411.9L943.1,412.6L943.4,413.2L943.7,413.9L943.9,414.6L944.2,415.2L944.5,415.9L944.8,416.5L945.1,417.2L945.3,417.9L945.6,418.5L945.9,419.2L946.2,419.8L946.5,420.5L946.8,421.2L947.0,421.8L947.3,422.5L947.6,423.2L947.9,423.8L948.2,424.5L948.5,425.2L948.8,425.8L949.1,426.5L949.4,427.2L949.7,427.8L950.0,428.5L950.3,429.2L950.6,429.8L950.9,430.5L951.2,431.2L951.5,431.8L951.8,432.5L952.1,433.2L952.4,433.8L952.7,434.5L953.0,435.2L953.3,435.8L953.6,436.5L953.9,437.1L954.3,437.8L954.6,438.5L954.9,439.1L955.2,439.8L955.5,440.5L955.9,441.1L956.2,441.8L956.5,442.4L956.9,443.1L957.2,443.7L957.5,444.4L957.9,445.1L958.2,445.7L958.5,446.4L958.9,447.0L959.2,447.7L959.6,448.3L959.9,449.0L960.3,449.6L960.6,450.3L961.0,450.9L961.3,451.6L961.7,452.2L962.1,452.8L962.4,453.5L962.8,454.1L963.2,454.8L963.5,455.4L963.9,456.0L964.3,456.6L964.6,457.3L965.0,457.9L965.4,458.5L965.8,459.1L966.1,459.8L966.5,460.4L966.9,461.0L967.3,461.6L967.7,462.2L968.1,462.8L968.5,463.4L968.9,464.0L969.3,464.7L969.7,465.3L970.1,465.8L970.5,466.4L970.9,467.0L971.3,467.6L971.7,468.2L972.2,468.8L972.6,469.4L973.0,470.0L973.4,470.5L973.9,471.1L974.3,471.7L974.7,472.3L975.2,472.8L975.6,473.4L976.0,474.0L976.5,474.5L976.9,475.1L977.4,475.6L977.8,476.2L978.3,476.7L978.7,477.2L979.2,477.8L979.7,478.3L980.1,478.8L980.6,479.4L981.1,479.9L981.5,480.4L982.0,480.9L982.5,481.4L983.0,482.0L983.5,482.5L983.9,483.0L984.4,483.5L984.9,484.0L985.4,484.4L985.9,484.9L986.4,485.4L986.9,485.9L987.4,486.4L988.0,486.8L988.5,487.3L989.0,487.8L989.5,488.2L990.0,488.7L990.6,489.1L991.1,489.6L991.6,490.0L992.2,490.4L992.7,490.9L993.3,491.3L993.8,491.7L994.4,492.1L994.9,492.6L995.5,493.0L996.0,493.4L996.6,493.8L997.2,494.2L997.7,494.6L998.3,494.9L998.9,495.3L999.5,495.7L1000.0,496.1L1000.6,496.4L1001.2,496.8L1001.8,497.2L1002.4,497.5L1003.0,497.8L1003.6,498.2L1004.2,498.5L1004.8,498.8L1005.5,499.2L1006.1,499.5L1006.7,499.8L1007.3,500.1L1007.9,500.4L1008.6,500.7L1009.2,501.0L1009.8,501.3L1010.5,501.6L1011.1,501.9L1011.8,502.2L1012.4,502.4L1013.1,502.7L1013.7,503.0L1014.4,503.2L1015.0,503.5L1015.7,503.7L1016.3,504.0L1017.0,504.2L1017.7,504.5L1018.3,504.7L1019.0,504.9L1019.7,505.1L1020.4,505.4L1021.0,505.6L1021.7,505.8L1022.4,506.0L1023.1,506.2L1023.8,506.4L1024.5,506.6L1025.1,506.8L1025.8,507.0L1026.5,507.2L1027.2,507.4L1027.9,507.6L1028.6,507.8L1029.3,508.0L1030.0,508.1L1030.7,508.3L1031.4,508.5L1032.1,508.7L1032.8,508.8L1033.5,509.0L1034.3,509.1L1035.0,509.3L1035.7,509.4L1036.4,509.6L1037.1,509.8L1037.8,509.9L1038.5,510.0L1039.2,510.2L1040.0,510.3L1040.7,510.5L1041.4,510.6L1042.1,510.7L1042.8,510.9L1043.6,511.0L1044.3,511.1L1045.0,511.2L1045.7,511.4L1046.4,511.5L1047.2,511.6L1047.9,511.7L1048.6,511.8L1049.3,512.0L1050.1,512.1L1050.8,512.2L1051.5,512.3L1052.2,512.4L1052.9,512.5L1053.7,512.6L1054.4,512.7L1055.1,512.8L1055.8,512.9L1056.6,513.0L1057.3,513.1L1058.0,513.2L1058.7,513.3L1059.4,513.4L1060.2,513.5L1060.9,513.6L1061.6,513.7L1062.3,513.8L1063.0,513.9L1063.7,514.0L1064.5,514.1L1065.2,514.2L1065.9,514.3L1066.6,514.4L1067.3,514.5L1068.0,514.6L1068.7,514.6L1069.4,514.7L1070.1,514.8L1070.9,514.9L1071.6,515.0L1072.3,515.1L1073.0,515.2L1073.7,515.3L1074.4,515.4L1075.1,515.5L1075.8,515.6L1076.4,515.6L1077.1,515.7L1077.8,515.8L1078.5,515.9L1079.2,516.0L1079.9,516.1L1080.6,516.2L1081.2,516.3L1081.9,516.4L1082.6,516.5L1083.3,516.6L1083.9,516.7L1084.1,506.1L1083.4,506.0L1082.7,505.9L1082.0,505.8L1081.4,505.7L1080.7,505.6L1080.0,505.5L1079.3,505.4L1078.6,505.3L1077.9,505.2L1077.2,505.1L1076.5,505.1L1075.9,505.0L1075.2,504.9L1074.5,504.8L1073.8,504.7L1073.1,504.6L1072.4,504.5L1071.7,504.4L1071.0,504.3L1070.2,504.2L1069.5,504.1L1068.8,504.1L1068.1,504.0L1067.4,503.9L1066.7,503.8L1066.0,503.7L1065.3,503.6L1064.6,503.5L1063.8,503.4L1063.1,503.3L1062.4,503.2L1061.7,503.1L1061.0,503.0L1060.3,502.9L1059.5,502.8L1058.8,502.7L1058.1,502.6L1057.4,502.5L1056.7,502.4L1055.9,502.3L1055.2,502.2L1054.5,502.1L1053.8,502.0L1053.1,501.9L1052.3,501.8L1051.6,501.7L1050.9,501.6L1050.2,501.5L1049.4,501.4L1048.7,501.3L1048.0,501.1L1047.3,501.0L1046.6,500.9L1045.8,500.8L1045.1,500.7L1044.4,500.5L1043.7,500.4L1043.0,500.3L1042.3,500.1L1041.5,500.0L1040.8,499.9L1040.1,499.7L1039.4,499.6L1038.7,499.5L1038.0,499.3L1037.3,499.2L1036.5,499.0L1035.8,498.9L1035.1,498.7L1034.4,498.6L1033.7,498.4L1033.0,498.2L1032.3,498.1L1031.6,497.9L1030.9,497.7L1030.2,497.6L1029.5,497.4L1028.8,497.2L1028.1,497.0L1027.4,496.8L1026.8,496.7L1026.1,496.5L1025.4,496.3L1024.7,496.1L1024.0,495.9L1023.3,495.7L1022.7,495.5L1022.0,495.2L1021.3,495.0L1020.6,494.8L1020.0,494.6L1019.3,494.4L1018.6,494.1L1018.0,493.9L1017.3,493.7L1016.7,493.4L1016.0,493.2L1015.4,492.9L1014.7,492.7L1014.1,492.4L1013.4,492.2L1012.8,491.9L1012.1,491.6L1011.5,491.4L1010.9,491.1L1010.2,490.8L1009.6,490.5L1009.0,490.2L1008.4,489.9L1007.8,489.6L1007.2,489.3L1006.5,489.0L1005.9,488.7L1005.3,488.4L1004.7,488.1L1004.1,487.7L1003.6,487.4L1003.0,487.1L1002.4,486.7L1001.8,486.4L1001.2,486.0L1000.7,485.7L1000.1,485.3L999.5,484.9L999.0,484.6L998.4,484.2L997.8,483.8L997.3,483.4L996.7,483.0L996.2,482.6L995.7,482.2L995.1,481.8L994.6,481.4L994.0,481.0L993.5,480.6L993.0,480.2L992.5,479.7L992.0,479.3L991.4,478.9L990.9,478.4L990.4,478.0L989.9,477.6L989.4,477.1L988.9,476.7L988.4,476.2L987.9,475.7L987.4,475.3L986.9,474.8L986.4,474.3L986.0,473.9L985.5,473.4L985.0,472.9L984.5,472.4L984.1,471.9L983.6,471.4L983.1,470.9L982.7,470.4L982.2,469.9L981.7,469.4L981.3,468.9L980.8,468.4L980.4,467.8L979.9,467.3L979.5,466.8L979.1,466.3L978.6,465.7L978.2,465.2L977.7,464.7L977.3,464.1L976.9,463.6L976.5,463.0L976.0,462.5L975.6,461.9L975.2,461.4L974.8,460.8L974.4,460.3L974.0,459.7L973.5,459.1L973.1,458.6L972.7,458.0L972.3,457.4L971.9,456.8L971.5,456.3L971.1,455.7L970.7,455.1L970.4,454.5L970.0,453.9L969.6,453.3L969.2,452.7L968.8,452.1L968.4,451.5L968.0,450.9L967.7,450.3L967.3,449.7L966.9,449.1L966.5,448.5L966.2,447.9L965.8,447.3L965.4,446.7L965.1,446.0L964.7,445.4L964.4,444.8L964.0,444.2L963.6,443.5L963.3,442.9L962.9,442.3L962.6,441.7L962.2,441.0L961.9,440.4L961.5,439.8L961.2,439.1L960.9,438.5L960.5,437.8L960.2,437.2L959.8,436.6L959.5,435.9L959.2,435.3L958.8,434.6L958.5,434.0L958.2,433.3L957.8,432.7L957.5,432.0L957.2,431.4L956.9,430.7L956.5,430.1L956.2,429.4L955.9,428.8L955.6,428.1L955.2,427.4L954.9,426.8L954.6,426.1L954.3,425.5L954.0,424.8L953.7,424.1L953.4,423.5L953.0,422.8L952.7,422.1L952.4,421.5L952.1,420.8L951.8,420.1L951.5,419.5L951.2,418.8L950.9,418.1L950.6,417.5L950.3,416.8L950.0,416.1L949.7,415.5L949.4,414.8L949.1,414.1L948.8,413.5L948.5,412.8L948.2,412.1L947.9,411.5L947.6,410.8L947.3,410.1L947.1,409.5L946.8,408.8L946.5,408.1L946.2,407.5L945.9,406.8L945.6,406.1L945.3,405.5L945.0,404.8L944.8,404.1L944.5,403.5L944.2,402.8L943.9,402.1L943.6,401.5L943.3,400.8L943.1,400.2L942.8,399.5L942.5,398.8L942.2,398.2L941.9,397.5L941.6,396.8L941.4,396.2L941.1,395.5L940.8,394.9L940.5,394.2L940.2,393.6L940.0,392.9L939.7,392.3L939.4,391.6L939.1,391.0L938.9,390.3L938.6,389.7L938.3,389.0L938.0,388.4L937.7,387.7L937.5,387.1L937.2,386.5L936.9,385.8L936.6,385.2L936.4,384.6L936.1,383.9L935.8,383.3L935.5,382.7L935.3,382.1L935.0,381.4Z"/><path d="M935.6,386.3L935.6,387.7L935.5,389.0L935.3,390.0L935.1,390.9L934.9,391.4L934.6,391.6L934.3,391.4L934.1,390.9L933.9,390.0L933.7,389.0L933.6,387.7L933.6,386.3L933.6,384.9L933.7,383.7L933.9,382.6L934.1,381.7L934.3,381.2L934.6,381.0L934.9,381.2L935.1,381.7L935.3,382.6L935.5,383.7L935.6,384.9Z"/><path d="M1085.4,511.4L1085.4,512.8L1085.2,514.0L1085.0,515.1L1084.7,516.0L1084.4,516.5L1084.0,516.7L1083.6,516.5L1083.3,516.0L1083.0,515.1L1082.8,514.0L1082.6,512.8L1082.6,511.4L1082.6,510.0L1082.8,508.7L1083.0,507.7L1083.3,506.8L1083.6,506.3L1084.0,506.1L1084.4,506.3L1084.7,506.8L1085.0,507.7L1085.2,508.7L1085.4,510.0Z"/></g>
<path class="area" d="M196.0,425.8L197.4,426.0L198.7,426.2L200.1,426.4L201.4,426.5L202.8,426.7L204.1,426.7L205.5,426.8L206.8,426.8L208.1,426.8L209.5,426.7L210.8,426.6L212.2,426.5L213.5,426.3L214.8,426.2L216.1,425.9L217.5,425.7L218.8,425.4L220.1,425.1L221.4,424.8L222.7,424.4L224.0,424.1L225.2,423.6L226.5,423.2L227.8,422.8L229.1,422.3L230.3,421.8L231.6,421.2L232.8,420.7L234.0,420.1L235.2,419.5L236.5,418.9L237.7,418.2L238.9,417.6L240.0,416.9L241.2,416.2L242.4,415.5L243.5,414.7L244.7,414.0L245.8,413.2L246.9,412.4L248.0,411.6L249.1,410.8L250.2,410.0L251.3,409.1L252.4,408.3L253.4,407.4L254.4,406.5L255.5,405.6L256.5,404.7L257.5,403.8L258.5,402.9L259.4,401.9L260.4,400.9L261.3,400.0L262.2,399.0L263.1,398.0L264.0,397.0L264.9,395.9L265.8,394.9L266.6,393.8L267.5,392.8L268.3,391.7L269.1,390.6L269.9,389.5L270.7,388.4L271.4,387.3L272.1,386.2L272.9,385.1L273.6,383.9L274.3,382.8L274.9,381.6L275.6,380.4L276.2,379.2L276.8,378.0L277.4,376.8L278.0,375.6L278.6,374.4L279.1,373.2L279.7,372.0L280.2,370.7L280.7,369.5L281.2,368.2L281.7,367.0L282.1,365.7L282.6,364.4L283.1,363.2L283.5,361.9L283.9,360.6L284.3,359.3L284.7,358.0L285.1,356.7L285.5,355.4L285.9,354.1L286.3,352.8L286.7,351.5L287.0,350.2L287.4,348.9L287.7,347.6L288.1,346.2L288.4,344.9L288.8,343.6L289.1,342.3L289.4,341.0L289.8,339.7L290.1,338.3L290.4,337.0L290.8,335.7L291.1,334.4L291.4,333.1L291.7,331.7L292.1,330.4L292.4,329.1L292.7,327.8L293.0,326.5L293.4,325.2L293.7,323.8L294.0,322.5L294.3,321.2L294.6,319.9L295.0,318.6L295.3,317.3L295.6,316.0L295.9,314.6L296.2,313.3L296.6,312.0L296.9,310.7L297.2,309.4L297.5,308.1L297.9,306.8L298.2,305.5L298.5,304.2L298.8,302.8L299.2,301.5L299.5,300.2L299.8,298.9L300.2,297.6L300.5,296.3L300.9,295.0L301.2,293.7L301.5,292.4L301.9,291.1L302.2,289.8L302.6,288.5L303.0,287.2L303.3,285.9L303.7,284.6L304.0,283.3L304.4,282.0L304.8,280.7L305.2,279.4L305.5,278.1L305.9,276.9L306.3,275.6L306.7,274.3L307.1,273.0L307.5,271.7L307.9,270.4L308.3,269.1L308.7,267.9L309.1,266.6L309.6,265.3L310.0,264.0L310.4,262.7L310.9,261.5L311.3,260.2L311.8,258.9L312.2,257.6L312.7,256.4L313.1,255.1L313.6,253.8L314.1,252.6L314.6,251.3L315.1,250.0L315.6,248.8L316.1,247.5L316.6,246.3L317.1,245.0L317.6,243.8L318.1,242.5L318.7,241.3L319.2,240.0L319.8,238.8L320.3,237.5L320.9,236.3L321.5,235.1L322.0,233.8L322.6,232.6L323.2,231.4L323.8,230.1L324.4,228.9L325.1,227.7L325.7,226.5L326.3,225.3L327.0,224.1L327.6,222.9L328.3,221.7L328.9,220.5L329.6,219.4L330.3,218.2L331.0,217.0L331.7,215.9L332.4,214.7L333.1,213.6L333.9,212.4L334.6,211.3L335.3,210.1L336.1,209.0L336.9,207.9L337.6,206.8L338.4,205.7L339.2,204.6L340.0,203.5L340.8,202.4L341.6,201.3L342.5,200.3L343.3,199.2L344.2,198.2L345.0,197.1L345.9,196.1L346.8,195.1L347.7,194.0L348.6,193.0L349.5,192.0L350.4,191.1L351.3,190.1L352.3,189.2L353.3,188.2L354.2,187.3L355.2,186.4L356.3,185.6L357.3,184.7L358.4,183.9L359.4,183.1L360.5,182.3L361.6,181.6L362.7,180.9L363.9,180.2L365.1,179.5L366.2,178.9L367.5,178.3L368.7,177.8L370.0,177.3L371.2,176.8L372.5,176.3L373.8,175.9L375.2,175.6L376.5,175.2L377.8,174.9L379.2,174.6L380.5,174.4L381.9,174.2L383.3,174.0L384.6,173.9L386.0,173.8L387.4,173.7L388.7,173.7L390.1,173.7L391.5,173.7L392.8,173.8L394.2,173.9L395.5,174.1L396.9,174.2L398.2,174.5L399.5,174.7L400.8,175.0L402.2,175.3L403.5,175.7L404.7,176.1L406.0,176.6L407.3,177.0L408.5,177.6L409.7,178.1L410.9,178.7L412.1,179.3L413.3,180.0L414.5,180.7L415.6,181.4L416.7,182.2L417.9,183.0L419.0,183.8L420.0,184.6L421.1,185.4L422.2,186.3L423.2,187.2L424.2,188.1L425.2,189.0L426.2,189.9L427.2,190.9L428.1,191.9L429.1,192.8L430.0,193.8L430.9,194.8L431.8,195.9L432.7,196.9L433.5,197.9L434.4,199.0L435.2,200.1L436.0,201.2L436.8,202.3L437.6,203.4L438.4,204.5L439.1,205.6L439.9,206.8L440.6,207.9L441.3,209.1L442.0,210.2L442.7,211.4L443.3,212.6L444.0,213.8L444.6,215.0L445.2,216.2L445.8,217.4L446.4,218.6L447.0,219.9L447.6,221.1L448.1,222.4L448.6,223.6L449.1,224.9L449.6,226.1L450.1,227.4L450.6,228.7L451.0,229.9L451.5,231.2L451.9,232.5L452.3,233.8L452.7,235.1L453.1,236.4L453.5,237.6L453.8,238.9L454.2,240.2L454.6,241.5L454.9,242.9L455.2,244.2L455.6,245.5L455.9,246.8L456.2,248.1L456.5,249.4L456.8,250.7L457.1,252.0L457.4,253.3L457.7,254.7L458.0,256.0L458.3,257.3L458.6,258.6L458.9,259.9L459.2,261.3L459.5,262.6L459.8,263.9L460.1,265.2L460.3,266.6L460.6,267.9L460.9,269.2L461.2,270.5L461.4,271.9L461.7,273.2L462.0,274.5L462.2,275.8L462.5,277.2L462.8,278.5L463.0,279.8L463.3,281.2L463.5,282.5L463.8,283.8L464.0,285.1L464.3,286.5L464.5,287.8L464.8,289.1L465.0,290.5L465.2,291.8L465.5,293.1L465.7,294.5L465.9,295.8L466.2,297.1L466.4,298.5L466.6,299.8L466.9,301.1L467.1,302.5L467.3,303.8L467.5,305.1L467.7,306.5L468.0,307.8L468.2,309.2L468.4,310.5L468.6,311.8L468.8,313.2L469.0,314.5L469.2,315.8L469.4,317.2L469.6,318.5L469.8,319.8L470.0,321.2L470.2,322.5L470.4,323.8L470.6,325.2L470.8,326.5L471.0,327.9L471.2,329.2L471.4,330.5L471.5,331.9L471.7,333.2L471.9,334.5L472.1,335.9L472.3,337.2L472.4,338.5L472.6,339.9L472.8,341.2L473.0,342.6L473.1,343.9L473.3,345.2L473.5,346.6L473.7,347.9L473.8,349.2L474.0,350.6L474.1,351.9L474.3,353.3L474.5,354.6L474.6,355.9L474.8,357.3L475.0,358.6L475.1,360.0L475.3,361.3L475.4,362.7L475.6,364.0L475.7,365.3L475.9,366.7L476.0,368.0L476.2,369.4L476.3,370.7L476.5,372.1L476.6,373.4L476.8,374.7L476.9,376.1L477.0,377.4L477.2,378.8L477.3,380.1L477.5,381.5L477.6,382.8L477.7,384.2L477.9,385.5L478.0,386.9L478.1,388.2L478.3,389.6L478.4,390.9L478.6,392.3L478.7,393.6L478.8,395.0L479.0,396.3L479.1,397.7L479.2,399.0L479.4,400.4L479.5,401.8L479.7,403.1L479.8,404.5L480.0,405.8L480.2,407.1L480.3,408.5L480.5,409.8L480.7,411.2L480.9,412.5L481.1,413.9L481.3,415.2L481.5,416.5L481.8,417.9L482.0,419.2L482.3,420.5L482.6,421.8L482.8,423.1L483.1,424.5L483.4,425.8L483.8,427.1L484.1,428.4L484.5,429.7L484.8,431.0L485.2,432.3L485.6,433.6L486.1,434.8L486.5,436.1L487.0,437.4L487.5,438.6L488.0,439.9L488.5,441.2L489.0,442.4L489.6,443.6L490.1,444.9L490.7,446.1L491.4,447.3L492.0,448.5L492.7,449.7L493.3,450.8L494.0,452.0L494.7,453.1L495.5,454.3L496.2,455.4L497.0,456.5L497.8,457.6L498.6,458.7L499.5,459.7L500.3,460.8L501.2,461.8L502.1,462.8L503.0,463.8L503.9,464.8L504.9,465.8L505.8,466.7L506.8,467.7L507.8,468.6L508.8,469.6L509.8,470.5L510.8,471.4L511.8,472.2L512.9,473.1L513.9,474.0L515.0,474.8L516.1,475.7L517.2,476.5L518.3,477.3L519.4,478.1L520.5,478.9L521.6,479.6L522.8,480.4L523.9,481.2L525.0,481.9L526.2,482.6L527.4,483.3L528.5,484.0L529.7,484.7L530.9,485.4L532.1,486.1L533.2,486.7L534.4,487.4L535.6,488.0L536.8,488.7L538.0,489.3L539.2,489.9L540.4,490.5L541.6,491.0L542.8,491.6L544.1,492.1L545.3,492.7L546.5,493.2L547.8,493.7L549.0,494.2L550.3,494.7L551.5,495.2L552.8,495.6L554.1,496.1L555.3,496.5L556.6,496.9L557.9,497.3L559.2,497.7L560.5,498.1L561.8,498.4L563.1,498.8L564.4,499.1L565.7,499.5L567.1,499.8L568.4,500.1L569.7,500.4L571.0,500.7L572.4,500.9L573.7,501.2L575.0,501.5L576.4,501.7L577.7,501.9L579.0,502.2L580.4,502.4L581.7,502.6L583.1,502.8L584.4,503.0L585.8,503.1L587.1,503.3L588.5,503.5L589.8,503.6L591.2,503.8L592.5,503.9L593.9,504.0L595.3,504.1L596.6,504.2L598.0,504.3L599.3,504.4L600.7,504.5L602.0,504.6L603.4,504.7L604.7,504.8L606.1,504.8L607.4,504.9L608.7,504.9L610.1,505.0L611.4,505.0L612.8,505.1L614.1,505.1L615.5,505.1L616.8,505.2L618.1,505.2L619.5,505.2L620.8,505.2L622.2,505.2L623.5,505.2L624.9,505.3L626.2,505.3L627.5,505.3L628.9,505.3L630.2,505.3L631.6,505.3L632.9,505.3L634.2,505.3L635.6,505.3L636.9,505.3L638.3,505.3L639.6,505.3L641.0,505.4L642.3,505.4L643.7,505.4L645.0,505.4L646.4,505.4L647.8,505.5L649.1,505.5L650.5,505.5L651.8,505.6L653.2,505.6L654.6,505.6L655.9,505.7L657.3,505.8L658.7,505.8L660.1,505.9L661.4,506.0L662.8,506.1L664.2,506.2L665.5,506.3L666.9,506.4L668.3,506.5L669.6,506.7L671.0,506.9L672.3,507.0L673.7,507.2L675.0,507.4L676.4,507.7L677.7,507.9L679.0,508.2L680.3,508.4L681.7,508.7L683.0,509.1L684.3,509.4L685.6,509.8L686.8,510.1L688.1,510.6L689.4,511.0L690.6,511.4L691.9,511.9L693.1,512.4L694.3,513.0L695.5,513.5L696.7,514.1L697.9,514.8L699.1,515.4L700.3,516.1L701.4,516.8L702.5,517.6L703.6,518.3L704.7,519.1L705.8,520.0L706.9,520.8L707.9,521.7L708.9,522.6L709.9,523.6L710.9,524.5L711.8,525.5L712.7,526.5L713.6,527.5L714.5,528.6L715.3,529.7L716.1,530.8L716.9,531.9L717.6,533.0L718.3,534.2L719.0,535.3L719.6,536.5L720.2,537.7L720.8,539.0L721.3,540.2L721.8,541.4L722.2,542.7L722.7,544.0L723.0,545.3L723.3,546.6L723.6,547.9L723.8,549.2L724.0,550.5L724.1,551.9L724.2,553.2L724.2,554.6L724.2,556.0L724.1,557.3L724.0,558.7L723.8,560.1L723.6,561.5L723.4,564.0L720.8,615.6L195.3,615.6Z" fill="rgb(227,228,230)" fill-opacity="0.82"/>
<g clip-path="url(#oclip)"><path class="changes-curve" d="M192.0,429.9L193.3,430.3L194.7,430.6L196.0,430.9L197.4,431.1L198.7,431.4L200.1,431.5L201.4,431.7L202.8,431.8L204.1,431.9L205.5,431.9L206.8,431.9L208.1,431.9L209.5,431.9L210.8,431.8L212.2,431.6L213.5,431.5L214.8,431.3L216.1,431.1L217.5,430.9L218.8,430.6L220.1,430.3L221.4,429.9L222.7,429.6L224.0,429.2L225.3,428.8L226.5,428.4L227.8,427.9L229.1,427.4L230.3,426.9L231.6,426.4L232.8,425.8L234.1,425.2L235.3,424.6L236.5,424.0L237.7,423.4L238.9,422.7L240.1,422.0L241.3,421.3L242.4,420.6L243.6,419.9L244.7,419.1L245.9,418.3L247.0,417.6L248.1,416.8L249.2,415.9L250.3,415.1L251.4,414.3L252.4,413.4L253.5,412.5L254.5,411.6L255.5,410.7L256.6,409.8L257.6,408.9L258.5,408.0L259.5,407.0L260.5,406.0L261.4,405.1L262.4,404.1L263.3,403.0L264.2,402.0L265.1,401.0L265.9,400.0L266.8,398.9L267.6,397.8L268.5,396.7L269.3,395.7L270.1,394.6L270.8,393.4L271.6,392.3L272.4,391.2L273.1,390.0L273.8,388.9L274.5,387.7L275.2,386.5L275.9,385.3L276.5,384.1L277.1,382.9L277.7,381.7L278.3,380.5L278.9,379.2L279.5,378.0L280.0,376.7L280.5,375.5L281.1,374.2L281.6,372.9L282.1,371.6L282.5,370.4L283.0,369.1L283.5,367.8L283.9,366.5L284.3,365.1L284.8,363.8L285.2,362.5L285.6,361.2L286.0,359.9L286.4,358.5L286.8,357.2L287.1,355.9L287.5,354.5L287.9,353.2L288.2,351.9L288.6,350.5L288.9,349.2L289.3,347.9L289.6,346.5L289.9,345.2L290.3,343.9L290.6,342.6L291.0,341.2L291.3,339.9L291.6,338.6L291.9,337.3L292.3,335.9L292.6,334.6L292.9,333.3L293.2,332.0L293.6,330.7L293.9,329.3L294.2,328.0L294.5,326.7L294.8,325.4L295.2,324.1L295.5,322.8L295.8,321.5L296.1,320.1L296.4,318.8L296.8,317.5L297.1,316.2L297.4,314.9L297.7,313.6L298.1,312.3L298.4,311.0L298.7,309.7L299.0,308.4L299.4,307.1L299.7,305.8L300.0,304.5L300.3,303.2L300.7,301.9L301.0,300.6L301.4,299.3L301.7,298.0L302.1,296.7L302.4,295.4L302.8,294.1L303.1,292.8L303.5,291.5L303.8,290.2L304.2,288.9L304.5,287.7L304.9,286.4L305.3,285.1L305.7,283.8L306.0,282.5L306.4,281.2L306.8,280.0L307.2,278.7L307.6,277.4L308.0,276.1L308.4,274.9L308.8,273.6L309.2,272.3L309.6,271.0L310.0,269.8L310.5,268.5L310.9,267.2L311.3,266.0L311.8,264.7L312.2,263.4L312.7,262.2L313.1,260.9L313.6,259.7L314.1,258.4L314.5,257.2L315.0,255.9L315.5,254.7L316.0,253.4L316.5,252.1L317.0,250.9L317.6,249.6L318.1,248.3L318.7,247.1L319.2,245.8L319.8,244.6L320.3,243.3L320.9,242.1L321.5,240.9L322.0,239.6L322.6,238.4L323.2,237.2L323.8,235.9L324.4,234.7L325.0,233.5L325.7,232.3L326.3,231.1L326.9,229.9L327.5,228.8L328.2,227.6L328.8,226.4L329.5,225.2L330.2,224.1L330.9,222.9L331.6,221.7L332.3,220.6L333.0,219.4L333.7,218.3L334.4,217.2L335.1,216.0L335.9,214.9L336.6,213.8L337.4,212.7L338.1,211.6L338.9,210.5L339.7,209.4L340.5,208.3L341.3,207.3L342.1,206.2L342.9,205.1L343.8,204.1L344.6,203.1L345.4,202.0L346.3,201.0L347.2,200.0L348.1,199.0L349.0,198.0L349.9,197.0L350.8,196.0L351.7,195.1L352.7,194.1L353.6,193.2L354.6,192.3L355.6,191.4L356.6,190.6L357.6,189.7L358.6,188.9L359.7,188.1L360.8,187.4L361.9,186.6L363.0,185.9L364.1,185.3L365.3,184.6L366.4,184.0L367.6,183.4L368.9,182.9L370.1,182.4L371.4,181.9L372.6,181.5L373.9,181.1L375.3,180.7L376.6,180.4L377.9,180.1L379.2,179.8L380.6,179.6L381.9,179.4L383.3,179.2L384.6,179.0L386.0,178.9L387.4,178.9L388.7,178.8L390.1,178.8L391.4,178.9L392.8,179.0L394.1,179.1L395.5,179.2L396.8,179.4L398.1,179.6L399.4,179.9L400.8,180.1L402.0,180.5L403.3,180.8L404.6,181.2L405.9,181.7L407.1,182.2L408.3,182.7L409.5,183.2L410.7,183.8L411.9,184.4L413.0,185.1L414.2,185.8L415.3,186.5L416.4,187.2L417.5,188.0L418.6,188.8L419.7,189.6L420.7,190.4L421.8,191.3L422.8,192.2L423.8,193.0L424.8,194.0L425.7,194.9L426.7,195.8L427.6,196.8L428.6,197.7L429.5,198.7L430.4,199.7L431.3,200.7L432.1,201.7L433.0,202.8L433.8,203.8L434.6,204.9L435.5,205.9L436.2,207.0L437.0,208.1L437.8,209.2L438.5,210.3L439.2,211.4L440.0,212.6L440.7,213.7L441.4,214.8L442.0,216.0L442.7,217.2L443.4,218.4L444.0,219.6L444.6,220.8L445.3,222.0L445.9,223.2L446.4,224.4L447.0,225.7L447.6,226.9L448.1,228.1L448.6,229.4L449.1,230.6L449.6,231.9L450.1,233.2L450.6,234.4L451.0,235.7L451.4,237.0L451.8,238.2L452.3,239.5L452.6,240.8L453.0,242.1L453.4,243.4L453.8,244.6L454.1,245.9L454.5,247.2L454.8,248.6L455.2,249.9L455.5,251.2L455.8,252.5L456.1,253.8L456.5,255.2L456.8,256.5L457.1,257.8L457.4,259.1L457.7,260.4L458.0,261.7L458.3,263.1L458.6,264.4L458.9,265.7L459.2,267.0L459.4,268.3L459.7,269.7L460.0,271.0L460.3,272.3L460.6,273.6L460.8,274.9L461.1,276.3L461.4,277.6L461.7,278.9L461.9,280.2L462.2,281.6L462.4,282.9L462.7,284.2L463.0,285.6L463.2,286.9L463.5,288.2L463.7,289.5L464.0,290.9L464.2,292.2L464.5,293.5L464.7,294.9L464.9,296.2L465.2,297.5L465.4,298.8L465.7,300.2L465.9,301.5L466.1,302.8L466.3,304.2L466.6,305.5L466.8,306.8L467.0,308.2L467.2,309.5L467.5,310.8L467.7,312.2L467.9,313.5L468.1,314.8L468.3,316.2L468.5,317.5L468.7,318.8L468.9,320.2L469.2,321.5L469.4,322.8L469.5,324.2L469.7,325.5L469.9,326.8L470.1,328.1L470.3,329.4L470.5,330.8L470.7,332.1L470.9,333.4L471.1,334.7L471.3,336.1L471.4,337.4L471.6,338.7L471.8,340.0L472.0,341.4L472.2,342.7L472.3,344.0L472.5,345.3L472.7,346.7L472.8,348.0L473.0,349.3L473.2,350.7L473.3,352.0L473.5,353.3L473.7,354.6L473.8,356.0L474.0,357.3L474.2,358.6L474.3,359.9L474.5,361.3L474.6,362.6L474.8,363.9L474.9,365.3L475.1,366.6L475.2,367.9L475.4,369.2L475.5,370.6L475.7,371.9L475.8,373.2L476.0,374.6L476.1,375.9L476.3,377.2L476.4,378.6L476.6,379.9L476.7,381.2L476.8,382.6L477.0,383.9L477.1,385.2L477.3,386.6L477.4,387.9L477.5,389.2L477.7,390.6L477.8,391.9L477.9,393.3L478.1,394.6L478.2,396.0L478.3,397.3L478.5,398.7L478.6,400.1L478.7,401.4L478.9,402.8L479.0,404.2L479.2,405.6L479.4,407.0L479.5,408.4L479.7,409.8L479.9,411.2L480.0,412.6L480.2,414.0L480.4,415.4L480.6,416.8L480.8,418.2L481.1,419.6L481.3,421.0L481.5,422.4L481.8,423.8L482.1,425.1L482.3,426.5L482.6,427.9L482.9,429.2L483.3,430.6L483.6,431.9L483.9,433.2L484.3,434.5L484.7,435.9L485.1,437.2L485.5,438.5L485.9,439.8L486.4,441.1L486.8,442.4L487.3,443.6L487.8,444.9L488.4,446.2L488.9,447.4L489.5,448.7L490.0,449.9L490.6,451.1L491.3,452.3L491.9,453.5L492.6,454.7L493.2,455.9L493.9,457.1L494.7,458.2L495.4,459.4L496.2,460.5L497.0,461.6L497.8,462.7L498.6,463.8L499.4,464.8L500.3,465.9L501.1,466.9L502.0,467.9L502.9,468.9L503.9,469.9L504.8,470.9L505.8,471.9L506.7,472.8L507.7,473.8L508.7,474.7L509.7,475.6L510.7,476.5L511.8,477.4L512.8,478.3L513.9,479.1L515.0,480.0L516.0,480.8L517.1,481.6L518.2,482.4L519.3,483.2L520.5,484.0L521.6,484.8L522.7,485.5L523.9,486.3L525.0,487.0L526.2,487.8L527.3,488.5L528.5,489.2L529.7,489.9L530.8,490.6L532.0,491.2L533.2,491.9L534.4,492.5L535.6,493.2L536.8,493.8L538.0,494.4L539.2,495.0L540.4,495.6L541.6,496.2L542.8,496.7L544.0,497.3L545.3,497.8L546.5,498.3L547.8,498.9L549.0,499.4L550.3,499.8L551.5,500.3L552.8,500.8L554.1,501.2L555.3,501.6L556.6,502.0L557.9,502.4L559.2,502.8L560.5,503.2L561.8,503.6L563.1,503.9L564.4,504.3L565.7,504.6L567.0,504.9L568.4,505.2L569.7,505.5L571.0,505.8L572.3,506.1L573.7,506.4L575.0,506.6L576.4,506.9L577.7,507.1L579.0,507.3L580.4,507.5L581.7,507.7L583.1,507.9L584.4,508.1L585.8,508.3L587.1,508.5L588.5,508.6L589.8,508.8L591.2,508.9L592.5,509.0L593.9,509.2L595.3,509.3L596.6,509.4L598.0,509.5L599.3,509.6L600.7,509.7L602.0,509.8L603.4,509.8L604.7,509.9L606.1,510.0L607.4,510.0L608.7,510.1L610.1,510.1L611.4,510.2L612.8,510.2L614.1,510.2L615.5,510.3L616.8,510.3L618.1,510.3L619.5,510.3L620.8,510.4L622.2,510.4L623.5,510.4L624.9,510.4L626.2,510.4L627.5,510.4L628.9,510.4L630.2,510.4L631.6,510.4L632.9,510.4L634.2,510.5L635.6,510.5L636.9,510.5L638.3,510.5L639.6,510.5L641.0,510.5L642.3,510.5L643.7,510.5L645.0,510.6L646.4,510.6L647.8,510.6L649.1,510.6L650.5,510.7L651.8,510.7L653.2,510.7L654.6,510.8L655.9,510.8L657.3,510.9L658.7,511.0L660.0,511.0L661.4,511.1L662.8,511.2L664.2,511.3L665.5,511.4L666.9,511.6L668.3,511.7L669.6,511.8L671.0,512.0L672.3,512.2L673.7,512.4L675.0,512.6L676.4,512.8L677.7,513.0L679.0,513.3L680.3,513.6L681.6,513.9L683.0,514.2L684.3,514.5L685.5,514.9L686.8,515.3L688.1,515.7L689.4,516.1L690.6,516.6L691.9,517.1L693.1,517.6L694.3,518.1L695.5,518.7L696.7,519.3L697.9,519.9L699.1,520.6L700.2,521.2L701.4,522.0L702.5,522.7L703.6,523.5L704.7,524.3L705.8,525.1L706.8,526.0L707.9,526.8L708.9,527.8L709.9,528.7L710.8,529.7L711.8,530.6L712.7,531.6L713.6,532.7L714.4,533.7L715.3,534.8L716.1,535.9L716.8,537.0L717.6,538.1L718.3,539.3L718.9,540.4L719.5,541.6L720.1,542.8L720.7,544.0L721.2,545.2L721.7,546.4L722.1,547.6L722.5,548.9L722.8,550.1L723.1,551.3L723.4,552.5L723.5,553.5L723.7,554.5L723.7,555.1L723.8,555.3L723.8,554.8L723.8,554.0L723.9,553.8L723.8,554.4L723.7,555.4L723.5,556.6L723.7,566.4L724.0,564.8L724.2,563.1L724.4,560.9L724.6,558.0L724.7,554.4L724.6,551.2L724.5,548.7L724.3,546.6L724.1,544.9L723.8,543.3L723.5,541.9L723.2,540.4L722.8,539.1L722.4,537.8L721.9,536.5L721.4,535.2L720.9,533.9L720.3,532.7L719.7,531.5L719.1,530.3L718.4,529.1L717.7,527.9L717.0,526.8L716.2,525.7L715.4,524.6L714.5,523.5L713.7,522.4L712.8,521.4L711.9,520.4L710.9,519.4L710.0,518.4L709.0,517.5L707.9,516.6L706.9,515.7L705.9,514.8L704.8,514.0L703.7,513.2L702.6,512.4L701.4,511.7L700.3,511.0L699.1,510.3L698.0,509.6L696.8,509.0L695.6,508.4L694.4,507.8L693.1,507.3L691.9,506.8L690.7,506.3L689.4,505.8L688.1,505.4L686.9,505.0L685.6,504.6L684.3,504.3L683.0,503.9L681.7,503.6L680.4,503.3L679.0,503.0L677.7,502.7L676.4,502.5L675.0,502.3L673.7,502.1L672.3,501.9L671.0,501.7L669.6,501.5L668.3,501.4L666.9,501.3L665.5,501.1L664.2,501.0L662.8,500.9L661.4,500.8L660.1,500.7L658.7,500.7L657.3,500.6L655.9,500.5L654.6,500.5L653.2,500.4L651.8,500.4L650.5,500.4L649.1,500.3L647.8,500.3L646.4,500.3L645.0,500.3L643.7,500.2L642.3,500.2L641.0,500.2L639.6,500.2L638.3,500.2L636.9,500.2L635.6,500.2L634.2,500.2L632.9,500.1L631.6,500.1L630.2,500.1L628.9,500.1L627.5,500.1L626.2,500.1L624.9,500.1L623.5,500.1L622.2,500.1L620.8,500.1L619.5,500.0L618.1,500.0L616.8,500.0L615.5,500.0L614.1,499.9L612.8,499.9L611.4,499.9L610.1,499.8L608.8,499.8L607.4,499.7L606.1,499.7L604.7,499.6L603.4,499.5L602.0,499.5L600.7,499.4L599.3,499.3L598.0,499.2L596.6,499.1L595.3,499.0L593.9,498.9L592.6,498.7L591.2,498.6L589.8,498.5L588.5,498.3L587.1,498.2L585.8,498.0L584.4,497.8L583.1,497.6L581.7,497.4L580.4,497.2L579.1,497.0L577.7,496.8L576.4,496.6L575.0,496.3L573.7,496.1L572.4,495.8L571.0,495.5L569.7,495.2L568.4,494.9L567.1,494.6L565.7,494.3L564.4,494.0L563.1,493.6L561.8,493.3L560.5,492.9L559.2,492.5L557.9,492.2L556.6,491.8L555.4,491.3L554.1,490.9L552.8,490.5L551.6,490.0L550.3,489.5L549.0,489.1L547.8,488.6L546.6,488.1L545.3,487.5L544.1,487.0L542.9,486.4L541.6,485.9L540.4,485.3L539.2,484.7L538.0,484.1L536.8,483.5L535.6,482.9L534.4,482.3L533.3,481.6L532.1,480.9L530.9,480.3L529.7,479.6L528.6,478.9L527.4,478.2L526.2,477.5L525.1,476.8L523.9,476.0L522.8,475.3L521.7,474.5L520.5,473.7L519.4,473.0L518.3,472.2L517.2,471.3L516.1,470.5L515.0,469.7L514.0,468.8L512.9,468.0L511.9,467.1L510.8,466.2L509.8,465.3L508.8,464.4L507.8,463.5L506.8,462.6L505.9,461.6L504.9,460.7L504.0,459.7L503.0,458.7L502.1,457.7L501.3,456.7L500.4,455.6L499.5,454.6L498.7,453.5L497.9,452.5L497.1,451.4L496.3,450.3L495.6,449.2L494.8,448.0L494.1,446.9L493.4,445.8L492.7,444.6L492.1,443.4L491.5,442.2L490.8,441.0L490.2,439.8L489.7,438.6L489.1,437.4L488.6,436.1L488.1,434.9L487.6,433.6L487.1,432.4L486.6,431.1L486.2,429.9L485.8,428.6L485.4,427.4L485.0,426.1L484.6,424.8L484.3,423.5L484.0,422.3L483.6,421.0L483.3,419.7L483.0,418.4L482.8,417.1L482.5,415.9L482.3,414.6L482.0,413.3L481.8,412.0L481.6,410.7L481.4,409.5L481.2,408.2L481.0,406.9L480.8,405.6L480.6,404.3L480.5,403.1L480.3,401.8L480.1,400.5L480.0,399.2L479.9,397.9L479.7,396.6L479.6,395.3L479.4,394.0L479.3,392.6L479.2,391.3L479.0,390.0L478.9,388.6L478.8,387.3L478.6,385.9L478.5,384.5L478.4,383.2L478.2,381.8L478.1,380.5L477.9,379.1L477.8,377.7L477.7,376.4L477.5,375.0L477.4,373.7L477.2,372.3L477.1,370.9L476.9,369.6L476.8,368.2L476.7,366.9L476.5,365.5L476.4,364.1L476.2,362.8L476.0,361.4L475.9,360.1L475.7,358.7L475.6,357.4L475.4,356.0L475.3,354.7L475.1,353.3L474.9,352.0L474.8,350.6L474.6,349.3L474.5,347.9L474.3,346.5L474.1,345.2L474.0,343.8L473.8,342.5L473.6,341.1L473.4,339.8L473.3,338.4L473.1,337.1L472.9,335.7L472.7,334.4L472.6,333.0L472.4,331.7L472.2,330.3L472.0,329.0L471.8,327.6L471.6,326.3L471.5,325.0L471.3,323.6L471.1,322.3L470.9,320.9L470.7,319.6L470.5,318.2L470.3,316.9L470.1,315.5L469.9,314.2L469.7,312.8L469.5,311.5L469.3,310.1L469.1,308.8L468.9,307.5L468.7,306.1L468.4,304.8L468.2,303.5L468.0,302.1L467.8,300.8L467.6,299.4L467.4,298.1L467.1,296.8L466.9,295.4L466.7,294.1L466.5,292.8L466.2,291.4L466.0,290.1L465.8,288.8L465.5,287.4L465.3,286.1L465.1,284.7L464.8,283.4L464.6,282.1L464.3,280.7L464.1,279.4L463.8,278.1L463.6,276.7L463.3,275.4L463.1,274.1L462.8,272.8L462.6,271.4L462.3,270.1L462.0,268.8L461.8,267.4L461.5,266.1L461.2,264.8L460.9,263.5L460.7,262.1L460.4,260.8L460.1,259.5L459.8,258.2L459.5,256.8L459.3,255.5L459.0,254.2L458.7,252.9L458.4,251.5L458.1,250.2L457.8,248.9L457.5,247.6L457.2,246.3L456.9,245.0L456.6,243.7L456.3,242.4L456.0,241.1L455.6,239.8L455.3,238.5L455.0,237.1L454.6,235.8L454.3,234.5L453.9,233.2L453.6,231.9L453.2,230.6L452.8,229.3L452.4,228.0L452.0,226.7L451.5,225.4L451.1,224.1L450.6,222.9L450.2,221.6L449.7,220.3L449.2,219.1L448.7,217.8L448.1,216.6L447.6,215.3L447.0,214.1L446.4,212.8L445.9,211.6L445.2,210.4L444.6,209.2L444.0,208.0L443.3,206.8L442.7,205.6L442.0,204.4L441.2,203.2L440.5,202.1L439.8,200.9L439.0,199.8L438.2,198.6L437.4,197.5L436.6,196.4L435.8,195.3L434.9,194.2L434.1,193.1L433.2,192.1L432.3,191.0L431.4,190.0L430.5,189.0L429.5,187.9L428.6,187.0L427.6,186.0L426.6,185.0L425.7,184.1L424.6,183.1L423.6,182.2L422.5,181.3L421.5,180.4L420.4,179.6L419.3,178.7L418.2,177.9L417.1,177.1L415.9,176.4L414.7,175.6L413.6,174.9L412.4,174.3L411.2,173.6L409.9,173.0L408.7,172.5L407.4,171.9L406.2,171.4L404.9,171.0L403.6,170.6L402.3,170.2L400.9,169.9L399.6,169.6L398.3,169.3L396.9,169.1L395.6,168.9L394.2,168.8L392.8,168.7L391.5,168.6L390.1,168.5L388.7,168.5L387.3,168.6L386.0,168.6L384.6,168.7L383.2,168.9L381.8,169.1L380.5,169.3L379.1,169.5L377.7,169.8L376.4,170.1L375.0,170.4L373.7,170.8L372.4,171.2L371.1,171.7L369.8,172.1L368.5,172.7L367.3,173.2L366.1,173.8L364.9,174.4L363.7,175.1L362.5,175.8L361.4,176.5L360.2,177.3L359.1,178.0L358.1,178.8L357.0,179.7L356.0,180.5L354.9,181.4L353.9,182.3L352.9,183.2L351.9,184.2L351.0,185.1L350.0,186.1L349.1,187.1L348.2,188.1L347.2,189.1L346.3,190.1L345.5,191.2L344.6,192.2L343.7,193.3L342.9,194.3L342.0,195.4L341.2,196.5L340.3,197.6L339.5,198.7L338.7,199.8L337.9,200.9L337.1,202.0L336.3,203.1L335.6,204.2L334.8,205.4L334.1,206.5L333.3,207.7L332.6,208.8L331.9,210.0L331.1,211.2L330.4,212.3L329.7,213.5L329.1,214.7L328.4,215.9L327.7,217.1L327.0,218.3L326.4,219.5L325.7,220.7L325.1,221.9L324.5,223.1L323.9,224.3L323.2,225.6L322.6,226.8L322.0,228.0L321.5,229.3L320.9,230.5L320.3,231.7L319.8,232.9L319.2,234.2L318.7,235.4L318.2,236.7L317.6,237.9L317.1,239.2L316.6,240.4L316.1,241.7L315.6,242.9L315.1,244.2L314.6,245.4L314.1,246.7L313.6,248.0L313.2,249.3L312.7,250.5L312.2,251.8L311.7,253.1L311.3,254.4L310.8,255.7L310.4,256.9L309.9,258.2L309.5,259.5L309.1,260.8L308.7,262.1L308.2,263.4L307.8,264.7L307.4,266.0L307.0,267.3L306.6,268.6L306.2,269.9L305.8,271.2L305.4,272.5L305.0,273.8L304.7,275.1L304.3,276.4L303.9,277.7L303.5,279.0L303.2,280.3L302.8,281.6L302.4,282.9L302.1,284.2L301.7,285.5L301.4,286.8L301.0,288.1L300.7,289.4L300.3,290.7L300.0,292.0L299.7,293.4L299.3,294.7L299.0,296.0L298.7,297.3L298.3,298.6L298.0,299.9L297.7,301.2L297.3,302.6L297.0,303.9L296.7,305.2L296.4,306.5L296.0,307.8L295.7,309.1L295.4,310.5L295.1,311.8L294.8,313.1L294.4,314.4L294.1,315.7L293.8,317.0L293.5,318.3L293.2,319.7L292.8,321.0L292.5,322.3L292.2,323.6L291.9,324.9L291.5,326.2L291.2,327.5L290.9,328.9L290.6,330.2L290.2,331.5L289.9,332.8L289.6,334.1L289.3,335.4L288.9,336.7L288.6,338.0L288.3,339.3L287.9,340.7L287.6,342.0L287.2,343.3L286.9,344.6L286.5,345.8L286.2,347.1L285.8,348.4L285.4,349.7L285.1,351.0L284.7,352.3L284.3,353.5L283.9,354.8L283.5,356.1L283.1,357.3L282.6,358.6L282.2,359.8L281.8,361.1L281.3,362.3L280.8,363.5L280.3,364.8L279.8,366.0L279.3,367.2L278.8,368.4L278.3,369.6L277.7,370.8L277.1,372.0L276.5,373.2L275.9,374.3L275.3,375.5L274.7,376.7L274.0,377.8L273.3,378.9L272.6,380.1L271.9,381.2L271.2,382.3L270.5,383.4L269.7,384.5L268.9,385.6L268.1,386.7L267.3,387.7L266.5,388.8L265.6,389.8L264.8,390.9L263.9,391.9L263.0,392.9L262.1,393.9L261.2,394.9L260.3,395.8L259.3,396.8L258.4,397.8L257.4,398.7L256.4,399.6L255.4,400.5L254.4,401.4L253.3,402.3L252.3,403.2L251.2,404.0L250.2,404.9L249.1,405.7L248.0,406.5L246.9,407.3L245.8,408.1L244.6,408.8L243.5,409.6L242.3,410.3L241.2,411.0L240.0,411.7L238.8,412.4L237.6,413.1L236.4,413.7L235.2,414.3L234.0,414.9L232.8,415.5L231.5,416.1L230.3,416.6L229.0,417.1L227.8,417.6L226.5,418.1L225.2,418.5L223.9,418.9L222.7,419.3L221.4,419.7L220.1,420.0L218.8,420.3L217.4,420.6L216.1,420.8L214.8,421.0L213.5,421.2L212.2,421.3L210.8,421.5L209.5,421.6L208.1,421.6L206.8,421.6L205.5,421.6L204.1,421.6L202.8,421.5L201.4,421.4L200.1,421.2L198.7,421.1L197.4,420.9L196.0,420.6L194.7,420.3L193.3,420.0L192.0,419.7Z" fill="#ffaa00"/></g>
<g class="axes">
<path d="M189.3,128.7H195V616.2H189.3Z" fill="#1072d3"/>
<path class="m" d="M189.3,611H1080.2V616.2H189.3Z" fill="#1072d3"/>
<path class="m" d="M189.3,128.7H195L178.9,145.8H173.7ZM189.3,128.7H195L207.3,153.7H202.2Z" fill="#1072d3"/>
<path class="m" d="M1080.2,611V616.2L1063.2,600.4V594.9ZM1080.2,611V616.2L1055.3,628.8V623.3Z" fill="#1072d3"/>
</g>
<g class="labels">
<g filter="url(#tx2)"><text transform="translate(391.00,73.50) scale(0.5838,1)" font-size="50.18" word-spacing="11.99">GREEN LINE DEVELOPMENT</text></g>
<g filter="url(#tx1)"><text transform="translate(1004.20,664.80) scale(0.6907,1)" font-size="41.60" stroke="#000" stroke-width="0.4" stroke-linejoin="round">TIME</text></g>
<g filter="url(#txb)"><text transform="translate(207.80,579.80) scale(0.5195,1)" font-size="22.40">CONCEPT</text>
<text transform="translate(207.80,605.20) scale(0.5261,1)" font-size="22.25">DESIGN</text>
<text transform="translate(334.10,579.80) scale(0.5037,1)" font-size="22.40">SYSTEM</text>
<text transform="translate(334.10,605.20) scale(0.5803,1)" font-size="22.25">DEVELOPMENT</text>
<text transform="translate(463.30,579.80) scale(0.5254,1)" font-size="22.40">PRODUCT</text>
<text transform="translate(463.30,605.20) scale(0.5791,1)" font-size="22.25">DEVELOPMENT</text>
<text transform="translate(599.05,602.50) scale(0.5050,1)" font-size="23.27">SCALE UP</text>
<text transform="translate(729.30,579.80) scale(0.5190,1)" font-size="22.40">POST</text>
<text transform="translate(729.30,605.20) scale(0.5370,1)" font-size="22.25">LAUNCH</text></g>
<g filter="url(#ty1)"><text transform="translate(163.30,290.80) rotate(-90) scale(0.5302,1)" font-size="45.24" stroke="#000" stroke-width="0.4" stroke-linejoin="round">CHANGES</text>
<text transform="translate(137.00,607.60) rotate(-90) scale(0.5935,1)" font-size="25.45" word-spacing="5.06">PRODUCT, PACKAGE AND</text>
<text transform="translate(168.20,608.30) rotate(-90) scale(0.5651,1)" font-size="26.47" word-spacing="5.31">MANUFACTURING PROCESS</text></g>
<g filter="url(#tyb)"><text transform="translate(723.00,470.50) rotate(-90) scale(0.6161,1)" font-size="32.00" word-spacing="4.87">MARKET INTRODUCTION</text></g>
</g>
</svg>
<div class="footer"><span class="c">©</span> THE RE-WIRED GROUP 2023</div>
</body>
</html>
